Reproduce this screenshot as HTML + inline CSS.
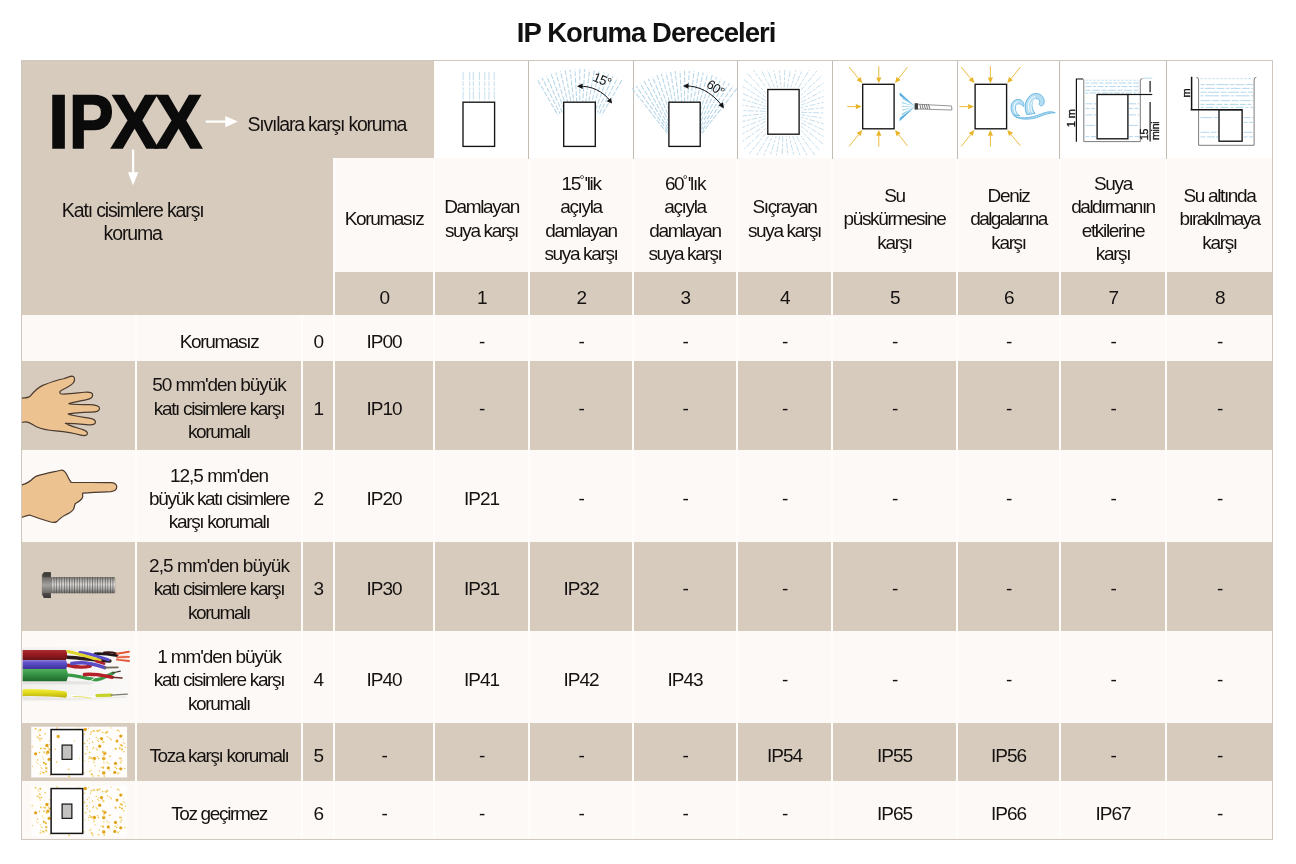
<!DOCTYPE html>
<html lang="tr"><head><meta charset="utf-8"><title>IP Koruma Dereceleri</title>
<style>
html,body{margin:0;padding:0;background:#fff}
body{width:1296px;height:864px;position:relative;overflow:hidden;font-family:"Liberation Sans",sans-serif;color:#151211}
.c{position:absolute;box-sizing:border-box}
.t{position:absolute;display:flex;align-items:center;justify-content:center;text-align:center;white-space:nowrap}
.t i{font-style:normal}
.t sup{font-size:12.5px;line-height:0;vertical-align:6px;letter-spacing:0;margin:0 0 0 -0.5px}
.title{position:absolute;left:0;top:0;width:1296px;text-align:center;font-weight:bold;font-size:27.5px;letter-spacing:-0.95px;line-height:30px;top:18.4px;color:#111;text-indent:-3.6px}
.ipxx b{position:absolute;top:0;transform:scaleX(0.94);transform-origin:0 0}
.ipxx{position:absolute;left:0;top:79.2px;width:300px;height:86px;font-weight:bold;font-size:76px;line-height:86px;-webkit-text-stroke:1.7px #0b0b0b;color:#0b0b0b}
.lab1{position:absolute;left:247.5px;top:111.2px;font-size:19.5px;line-height:26px;letter-spacing:-1.22px;white-space:nowrap}
</style></head><body>
<div class="c" style="left:21px;top:60px;width:1252px;height:780px;background:#fffdfa;"></div>
<div class="c" style="left:21px;top:60px;width:413px;height:98px;background:#d7cbbd;"></div>
<div class="c" style="left:21px;top:158px;width:312px;height:156.5px;background:#d7cbbd;"></div>
<div class="c" style="left:435px;top:61px;width:94px;height:97px;background:#ffffff;"></div>
<div class="c" style="left:530px;top:61px;width:103px;height:97px;background:#ffffff;"></div>
<div class="c" style="left:634px;top:61px;width:103px;height:97px;background:#ffffff;"></div>
<div class="c" style="left:738px;top:61px;width:94px;height:97px;background:#ffffff;"></div>
<div class="c" style="left:833px;top:61px;width:124px;height:97px;background:#ffffff;"></div>
<div class="c" style="left:958px;top:61px;width:102px;height:97px;background:#ffffff;"></div>
<div class="c" style="left:1061px;top:61px;width:105px;height:97px;background:#ffffff;"></div>
<div class="c" style="left:1167px;top:61px;width:105px;height:97px;background:#ffffff;"></div>
<div class="c" style="left:335px;top:158px;width:98px;height:114px;background:#fcf9f6;"></div>
<div class="c" style="left:335px;top:272px;width:98px;height:42.5px;background:#d7cbbd;"></div>
<div class="c" style="left:435px;top:158px;width:93px;height:114px;background:#fcf9f6;"></div>
<div class="c" style="left:435px;top:272px;width:93px;height:42.5px;background:#d7cbbd;"></div>
<div class="c" style="left:530px;top:158px;width:102px;height:114px;background:#fcf9f6;"></div>
<div class="c" style="left:530px;top:272px;width:102px;height:42.5px;background:#d7cbbd;"></div>
<div class="c" style="left:634px;top:158px;width:102px;height:114px;background:#fcf9f6;"></div>
<div class="c" style="left:634px;top:272px;width:102px;height:42.5px;background:#d7cbbd;"></div>
<div class="c" style="left:738px;top:158px;width:93px;height:114px;background:#fcf9f6;"></div>
<div class="c" style="left:738px;top:272px;width:93px;height:42.5px;background:#d7cbbd;"></div>
<div class="c" style="left:833px;top:158px;width:123px;height:114px;background:#fcf9f6;"></div>
<div class="c" style="left:833px;top:272px;width:123px;height:42.5px;background:#d7cbbd;"></div>
<div class="c" style="left:958px;top:158px;width:101px;height:114px;background:#fcf9f6;"></div>
<div class="c" style="left:958px;top:272px;width:101px;height:42.5px;background:#d7cbbd;"></div>
<div class="c" style="left:1061px;top:158px;width:104px;height:114px;background:#fcf9f6;"></div>
<div class="c" style="left:1061px;top:272px;width:104px;height:42.5px;background:#d7cbbd;"></div>
<div class="c" style="left:1167px;top:158px;width:105px;height:114px;background:#fcf9f6;"></div>
<div class="c" style="left:1167px;top:272px;width:105px;height:42.5px;background:#d7cbbd;"></div>
<div class="c" style="left:22px;top:314.5px;width:113px;height:46.5px;background:#fcf9f6;"></div>
<div class="c" style="left:137px;top:314.5px;width:164px;height:46.5px;background:#fcf9f6;"></div>
<div class="c" style="left:303px;top:314.5px;width:30px;height:46.5px;background:#fcf9f6;"></div>
<div class="c" style="left:335px;top:314.5px;width:98px;height:46.5px;background:#fcf9f6;"></div>
<div class="c" style="left:435px;top:314.5px;width:93px;height:46.5px;background:#fcf9f6;"></div>
<div class="c" style="left:530px;top:314.5px;width:102px;height:46.5px;background:#fcf9f6;"></div>
<div class="c" style="left:634px;top:314.5px;width:102px;height:46.5px;background:#fcf9f6;"></div>
<div class="c" style="left:738px;top:314.5px;width:93px;height:46.5px;background:#fcf9f6;"></div>
<div class="c" style="left:833px;top:314.5px;width:123px;height:46.5px;background:#fcf9f6;"></div>
<div class="c" style="left:958px;top:314.5px;width:101px;height:46.5px;background:#fcf9f6;"></div>
<div class="c" style="left:1061px;top:314.5px;width:104px;height:46.5px;background:#fcf9f6;"></div>
<div class="c" style="left:1167px;top:314.5px;width:105px;height:46.5px;background:#fcf9f6;"></div>
<div class="c" style="left:22px;top:361px;width:113px;height:89px;background:#d7cbbd;"></div>
<div class="c" style="left:137px;top:361px;width:164px;height:89px;background:#d7cbbd;"></div>
<div class="c" style="left:303px;top:361px;width:30px;height:89px;background:#d7cbbd;"></div>
<div class="c" style="left:335px;top:361px;width:98px;height:89px;background:#d7cbbd;"></div>
<div class="c" style="left:435px;top:361px;width:93px;height:89px;background:#d7cbbd;"></div>
<div class="c" style="left:530px;top:361px;width:102px;height:89px;background:#d7cbbd;"></div>
<div class="c" style="left:634px;top:361px;width:102px;height:89px;background:#d7cbbd;"></div>
<div class="c" style="left:738px;top:361px;width:93px;height:89px;background:#d7cbbd;"></div>
<div class="c" style="left:833px;top:361px;width:123px;height:89px;background:#d7cbbd;"></div>
<div class="c" style="left:958px;top:361px;width:101px;height:89px;background:#d7cbbd;"></div>
<div class="c" style="left:1061px;top:361px;width:104px;height:89px;background:#d7cbbd;"></div>
<div class="c" style="left:1167px;top:361px;width:105px;height:89px;background:#d7cbbd;"></div>
<div class="c" style="left:22px;top:450px;width:113px;height:91.5px;background:#fcf9f6;"></div>
<div class="c" style="left:137px;top:450px;width:164px;height:91.5px;background:#fcf9f6;"></div>
<div class="c" style="left:303px;top:450px;width:30px;height:91.5px;background:#fcf9f6;"></div>
<div class="c" style="left:335px;top:450px;width:98px;height:91.5px;background:#fcf9f6;"></div>
<div class="c" style="left:435px;top:450px;width:93px;height:91.5px;background:#fcf9f6;"></div>
<div class="c" style="left:530px;top:450px;width:102px;height:91.5px;background:#fcf9f6;"></div>
<div class="c" style="left:634px;top:450px;width:102px;height:91.5px;background:#fcf9f6;"></div>
<div class="c" style="left:738px;top:450px;width:93px;height:91.5px;background:#fcf9f6;"></div>
<div class="c" style="left:833px;top:450px;width:123px;height:91.5px;background:#fcf9f6;"></div>
<div class="c" style="left:958px;top:450px;width:101px;height:91.5px;background:#fcf9f6;"></div>
<div class="c" style="left:1061px;top:450px;width:104px;height:91.5px;background:#fcf9f6;"></div>
<div class="c" style="left:1167px;top:450px;width:105px;height:91.5px;background:#fcf9f6;"></div>
<div class="c" style="left:22px;top:541.5px;width:113px;height:89.5px;background:#d7cbbd;"></div>
<div class="c" style="left:137px;top:541.5px;width:164px;height:89.5px;background:#d7cbbd;"></div>
<div class="c" style="left:303px;top:541.5px;width:30px;height:89.5px;background:#d7cbbd;"></div>
<div class="c" style="left:335px;top:541.5px;width:98px;height:89.5px;background:#d7cbbd;"></div>
<div class="c" style="left:435px;top:541.5px;width:93px;height:89.5px;background:#d7cbbd;"></div>
<div class="c" style="left:530px;top:541.5px;width:102px;height:89.5px;background:#d7cbbd;"></div>
<div class="c" style="left:634px;top:541.5px;width:102px;height:89.5px;background:#d7cbbd;"></div>
<div class="c" style="left:738px;top:541.5px;width:93px;height:89.5px;background:#d7cbbd;"></div>
<div class="c" style="left:833px;top:541.5px;width:123px;height:89.5px;background:#d7cbbd;"></div>
<div class="c" style="left:958px;top:541.5px;width:101px;height:89.5px;background:#d7cbbd;"></div>
<div class="c" style="left:1061px;top:541.5px;width:104px;height:89.5px;background:#d7cbbd;"></div>
<div class="c" style="left:1167px;top:541.5px;width:105px;height:89.5px;background:#d7cbbd;"></div>
<div class="c" style="left:22px;top:631px;width:113px;height:91.5px;background:#fcf9f6;"></div>
<div class="c" style="left:137px;top:631px;width:164px;height:91.5px;background:#fcf9f6;"></div>
<div class="c" style="left:303px;top:631px;width:30px;height:91.5px;background:#fcf9f6;"></div>
<div class="c" style="left:335px;top:631px;width:98px;height:91.5px;background:#fcf9f6;"></div>
<div class="c" style="left:435px;top:631px;width:93px;height:91.5px;background:#fcf9f6;"></div>
<div class="c" style="left:530px;top:631px;width:102px;height:91.5px;background:#fcf9f6;"></div>
<div class="c" style="left:634px;top:631px;width:102px;height:91.5px;background:#fcf9f6;"></div>
<div class="c" style="left:738px;top:631px;width:93px;height:91.5px;background:#fcf9f6;"></div>
<div class="c" style="left:833px;top:631px;width:123px;height:91.5px;background:#fcf9f6;"></div>
<div class="c" style="left:958px;top:631px;width:101px;height:91.5px;background:#fcf9f6;"></div>
<div class="c" style="left:1061px;top:631px;width:104px;height:91.5px;background:#fcf9f6;"></div>
<div class="c" style="left:1167px;top:631px;width:105px;height:91.5px;background:#fcf9f6;"></div>
<div class="c" style="left:22px;top:722.5px;width:113px;height:58.5px;background:#d7cbbd;"></div>
<div class="c" style="left:137px;top:722.5px;width:164px;height:58.5px;background:#d7cbbd;"></div>
<div class="c" style="left:303px;top:722.5px;width:30px;height:58.5px;background:#d7cbbd;"></div>
<div class="c" style="left:335px;top:722.5px;width:98px;height:58.5px;background:#d7cbbd;"></div>
<div class="c" style="left:435px;top:722.5px;width:93px;height:58.5px;background:#d7cbbd;"></div>
<div class="c" style="left:530px;top:722.5px;width:102px;height:58.5px;background:#d7cbbd;"></div>
<div class="c" style="left:634px;top:722.5px;width:102px;height:58.5px;background:#d7cbbd;"></div>
<div class="c" style="left:738px;top:722.5px;width:93px;height:58.5px;background:#d7cbbd;"></div>
<div class="c" style="left:833px;top:722.5px;width:123px;height:58.5px;background:#d7cbbd;"></div>
<div class="c" style="left:958px;top:722.5px;width:101px;height:58.5px;background:#d7cbbd;"></div>
<div class="c" style="left:1061px;top:722.5px;width:104px;height:58.5px;background:#d7cbbd;"></div>
<div class="c" style="left:1167px;top:722.5px;width:105px;height:58.5px;background:#d7cbbd;"></div>
<div class="c" style="left:22px;top:781px;width:113px;height:59px;background:#fcf9f6;"></div>
<div class="c" style="left:137px;top:781px;width:164px;height:59px;background:#fcf9f6;"></div>
<div class="c" style="left:303px;top:781px;width:30px;height:59px;background:#fcf9f6;"></div>
<div class="c" style="left:335px;top:781px;width:98px;height:59px;background:#fcf9f6;"></div>
<div class="c" style="left:435px;top:781px;width:93px;height:59px;background:#fcf9f6;"></div>
<div class="c" style="left:530px;top:781px;width:102px;height:59px;background:#fcf9f6;"></div>
<div class="c" style="left:634px;top:781px;width:102px;height:59px;background:#fcf9f6;"></div>
<div class="c" style="left:738px;top:781px;width:93px;height:59px;background:#fcf9f6;"></div>
<div class="c" style="left:833px;top:781px;width:123px;height:59px;background:#fcf9f6;"></div>
<div class="c" style="left:958px;top:781px;width:101px;height:59px;background:#fcf9f6;"></div>
<div class="c" style="left:1061px;top:781px;width:104px;height:59px;background:#fcf9f6;"></div>
<div class="c" style="left:1167px;top:781px;width:105px;height:59px;background:#fcf9f6;"></div>
<div class="c" style="left:21px;top:60px;width:1252px;height:780px;border:1px solid #d0c7bf;background:none"></div>
<div class="c" style="left:528.1px;top:61px;width:1.0px;height:97.5px;background:#c4bdb6;"></div>
<div class="c" style="left:632.8px;top:61px;width:1.0px;height:97.5px;background:#c4bdb6;"></div>
<div class="c" style="left:737px;top:61px;width:1px;height:97.5px;background:#c4bdb6;"></div>
<div class="c" style="left:831.7px;top:61px;width:1.0px;height:97.5px;background:#c4bdb6;"></div>
<div class="c" style="left:956.6px;top:61px;width:1.0px;height:97.5px;background:#c4bdb6;"></div>
<div class="c" style="left:1059.2px;top:61px;width:1.0px;height:97.5px;background:#c4bdb6;"></div>
<div class="c" style="left:1165.8px;top:61px;width:1.0px;height:97.5px;background:#c4bdb6;"></div>
<div class="title">IP Koruma Dereceleri</div>
<div class="ipxx"><b style="left:48px;transform:scaleX(1.0)">I</b><b style="left:68.7px;transform:scaleX(0.88)">P</b><b style="left:111px;transform:scaleX(0.93)">X</b><b style="left:154.6px;transform:scaleX(0.93)">X</b></div>
<div class="lab1">Sıvılara karşı koruma</div>
<div class="t " style="left:20.2px;top:199px;width:225.0px;height:46px;font-size:19.5px;letter-spacing:-1.15px;line-height:23px"><span>Katı cisimlere karşı<br>koruma</span></div>
<div class="t " style="left:334px;top:161.9px;width:100px;height:114px;font-size:19px;letter-spacing:-1.35px;line-height:23.4px"><span>Korumasız</span></div>
<div class="t " style="left:334px;top:276.9px;width:100px;height:42.5px;font-size:19px;letter-spacing:-1.35px;line-height:23.4px"><span>0</span></div>
<div class="t " style="left:434px;top:161.9px;width:95px;height:114px;font-size:19px;letter-spacing:-1.35px;line-height:23.4px"><span>Damlayan<br>suya karşı</span></div>
<div class="t " style="left:434px;top:276.9px;width:95px;height:42.5px;font-size:19px;letter-spacing:-1.35px;line-height:23.4px"><span>1</span></div>
<div class="t " style="left:529px;top:161.9px;width:104px;height:114px;font-size:19px;letter-spacing:-1.35px;line-height:23.4px"><span>15<sup>°</sup>'lik<br>açıyla<br>damlayan<br>suya karşı</span></div>
<div class="t " style="left:529px;top:276.9px;width:104px;height:42.5px;font-size:19px;letter-spacing:-1.35px;line-height:23.4px"><span>2</span></div>
<div class="t " style="left:633px;top:161.9px;width:104px;height:114px;font-size:19px;letter-spacing:-1.35px;line-height:23.4px"><span>60<sup>°</sup>'lık<br>açıyla<br>damlayan<br>suya karşı</span></div>
<div class="t " style="left:633px;top:276.9px;width:104px;height:42.5px;font-size:19px;letter-spacing:-1.35px;line-height:23.4px"><span>3</span></div>
<div class="t " style="left:737px;top:161.9px;width:95px;height:114px;font-size:19px;letter-spacing:-1.35px;line-height:23.4px"><span>Sıçrayan<br>suya karşı</span></div>
<div class="t " style="left:737px;top:276.9px;width:95px;height:42.5px;font-size:19px;letter-spacing:-1.35px;line-height:23.4px"><span>4</span></div>
<div class="t " style="left:832px;top:161.9px;width:125px;height:114px;font-size:19px;letter-spacing:-1.35px;line-height:23.4px"><span>Su<br>püskürmesine<br>karşı</span></div>
<div class="t " style="left:832px;top:276.9px;width:125px;height:42.5px;font-size:19px;letter-spacing:-1.35px;line-height:23.4px"><span>5</span></div>
<div class="t " style="left:957px;top:161.9px;width:103px;height:114px;font-size:19px;letter-spacing:-1.35px;line-height:23.4px"><span>Deniz<br><i style="letter-spacing:-1.6px">dalgalarına</i><br>karşı</span></div>
<div class="t " style="left:957px;top:276.9px;width:103px;height:42.5px;font-size:19px;letter-spacing:-1.35px;line-height:23.4px"><span>6</span></div>
<div class="t " style="left:1060px;top:161.9px;width:106px;height:114px;font-size:19px;letter-spacing:-1.35px;line-height:23.4px"><span>Suya<br><i style="letter-spacing:-1.55px">daldırmanın</i><br>etkilerine<br>karşı</span></div>
<div class="t " style="left:1060px;top:276.9px;width:106px;height:42.5px;font-size:19px;letter-spacing:-1.35px;line-height:23.4px"><span>7</span></div>
<div class="t " style="left:1166px;top:161.9px;width:107px;height:114px;font-size:19px;letter-spacing:-1.35px;line-height:23.4px"><span>Su altında<br><i style="letter-spacing:-1.65px">bırakılmaya</i><br>karşı</span></div>
<div class="t " style="left:1166px;top:276.9px;width:107px;height:42.5px;font-size:19px;letter-spacing:-1.35px;line-height:23.4px"><span>8</span></div>
<div class="t " style="left:136px;top:318.4px;width:166px;height:46.5px;font-size:19px;letter-spacing:-1.35px;line-height:23.4px"><span>Korumasız</span></div>
<div class="t " style="left:302px;top:318.4px;width:32px;height:46.5px;font-size:19px;letter-spacing:-1.35px;line-height:23.4px"><span>0</span></div>
<div class="t " style="left:334px;top:318.4px;width:100px;height:46.5px;font-size:19px;letter-spacing:-1.0px;line-height:23.4px"><span>IP00</span></div>
<div class="t " style="left:434px;top:318.4px;width:95px;height:46.5px;font-size:19px;letter-spacing:-1.35px;line-height:23.4px"><span>-</span></div>
<div class="t " style="left:529px;top:318.4px;width:104px;height:46.5px;font-size:19px;letter-spacing:-1.35px;line-height:23.4px"><span>-</span></div>
<div class="t " style="left:633px;top:318.4px;width:104px;height:46.5px;font-size:19px;letter-spacing:-1.35px;line-height:23.4px"><span>-</span></div>
<div class="t " style="left:737px;top:318.4px;width:95px;height:46.5px;font-size:19px;letter-spacing:-1.35px;line-height:23.4px"><span>-</span></div>
<div class="t " style="left:832px;top:318.4px;width:125px;height:46.5px;font-size:19px;letter-spacing:-1.35px;line-height:23.4px"><span>-</span></div>
<div class="t " style="left:957px;top:318.4px;width:103px;height:46.5px;font-size:19px;letter-spacing:-1.35px;line-height:23.4px"><span>-</span></div>
<div class="t " style="left:1060px;top:318.4px;width:106px;height:46.5px;font-size:19px;letter-spacing:-1.35px;line-height:23.4px"><span>-</span></div>
<div class="t " style="left:1166px;top:318.4px;width:107px;height:46.5px;font-size:19px;letter-spacing:-1.35px;line-height:23.4px"><span>-</span></div>
<div class="t " style="left:136px;top:363.9px;width:166px;height:89px;font-size:19px;letter-spacing:-1.35px;line-height:23.4px"><span><i style="letter-spacing:-1.06px">50 mm'den büyük</i><br>katı cisimlere karşı<br>korumalı</span></div>
<div class="t " style="left:302px;top:363.9px;width:32px;height:89px;font-size:19px;letter-spacing:-1.35px;line-height:23.4px"><span>1</span></div>
<div class="t " style="left:334px;top:363.9px;width:100px;height:89px;font-size:19px;letter-spacing:-1.0px;line-height:23.4px"><span>IP10</span></div>
<div class="t " style="left:434px;top:363.9px;width:95px;height:89px;font-size:19px;letter-spacing:-1.35px;line-height:23.4px"><span>-</span></div>
<div class="t " style="left:529px;top:363.9px;width:104px;height:89px;font-size:19px;letter-spacing:-1.35px;line-height:23.4px"><span>-</span></div>
<div class="t " style="left:633px;top:363.9px;width:104px;height:89px;font-size:19px;letter-spacing:-1.35px;line-height:23.4px"><span>-</span></div>
<div class="t " style="left:737px;top:363.9px;width:95px;height:89px;font-size:19px;letter-spacing:-1.35px;line-height:23.4px"><span>-</span></div>
<div class="t " style="left:832px;top:363.9px;width:125px;height:89px;font-size:19px;letter-spacing:-1.35px;line-height:23.4px"><span>-</span></div>
<div class="t " style="left:957px;top:363.9px;width:103px;height:89px;font-size:19px;letter-spacing:-1.35px;line-height:23.4px"><span>-</span></div>
<div class="t " style="left:1060px;top:363.9px;width:106px;height:89px;font-size:19px;letter-spacing:-1.35px;line-height:23.4px"><span>-</span></div>
<div class="t " style="left:1166px;top:363.9px;width:107px;height:89px;font-size:19px;letter-spacing:-1.35px;line-height:23.4px"><span>-</span></div>
<div class="t " style="left:136px;top:453.0px;width:166px;height:91.5px;font-size:19px;letter-spacing:-1.35px;line-height:23.4px"><span><i style="letter-spacing:-1.0px">12,5 mm'den</i><br>büyük katı cisimlere<br>karşı korumalı</span></div>
<div class="t " style="left:302px;top:453.0px;width:32px;height:91.5px;font-size:19px;letter-spacing:-1.35px;line-height:23.4px"><span>2</span></div>
<div class="t " style="left:334px;top:453.0px;width:100px;height:91.5px;font-size:19px;letter-spacing:-1.0px;line-height:23.4px"><span>IP20</span></div>
<div class="t " style="left:434px;top:453.0px;width:95px;height:91.5px;font-size:19px;letter-spacing:-1.0px;line-height:23.4px"><span>IP21</span></div>
<div class="t " style="left:529px;top:453.0px;width:104px;height:91.5px;font-size:19px;letter-spacing:-1.35px;line-height:23.4px"><span>-</span></div>
<div class="t " style="left:633px;top:453.0px;width:104px;height:91.5px;font-size:19px;letter-spacing:-1.35px;line-height:23.4px"><span>-</span></div>
<div class="t " style="left:737px;top:453.0px;width:95px;height:91.5px;font-size:19px;letter-spacing:-1.35px;line-height:23.4px"><span>-</span></div>
<div class="t " style="left:832px;top:453.0px;width:125px;height:91.5px;font-size:19px;letter-spacing:-1.35px;line-height:23.4px"><span>-</span></div>
<div class="t " style="left:957px;top:453.0px;width:103px;height:91.5px;font-size:19px;letter-spacing:-1.35px;line-height:23.4px"><span>-</span></div>
<div class="t " style="left:1060px;top:453.0px;width:106px;height:91.5px;font-size:19px;letter-spacing:-1.35px;line-height:23.4px"><span>-</span></div>
<div class="t " style="left:1166px;top:453.0px;width:107px;height:91.5px;font-size:19px;letter-spacing:-1.35px;line-height:23.4px"><span>-</span></div>
<div class="t " style="left:136px;top:544.1px;width:166px;height:89.5px;font-size:19px;letter-spacing:-1.35px;line-height:23.4px"><span><i style="letter-spacing:-0.92px">2,5 mm'den büyük</i><br>katı cisimlere karşı<br>korumalı</span></div>
<div class="t " style="left:302px;top:544.1px;width:32px;height:89.5px;font-size:19px;letter-spacing:-1.35px;line-height:23.4px"><span>3</span></div>
<div class="t " style="left:334px;top:544.1px;width:100px;height:89.5px;font-size:19px;letter-spacing:-1.0px;line-height:23.4px"><span>IP30</span></div>
<div class="t " style="left:434px;top:544.1px;width:95px;height:89.5px;font-size:19px;letter-spacing:-1.0px;line-height:23.4px"><span>IP31</span></div>
<div class="t " style="left:529px;top:544.1px;width:104px;height:89.5px;font-size:19px;letter-spacing:-1.0px;line-height:23.4px"><span>IP32</span></div>
<div class="t " style="left:633px;top:544.1px;width:104px;height:89.5px;font-size:19px;letter-spacing:-1.35px;line-height:23.4px"><span>-</span></div>
<div class="t " style="left:737px;top:544.1px;width:95px;height:89.5px;font-size:19px;letter-spacing:-1.35px;line-height:23.4px"><span>-</span></div>
<div class="t " style="left:832px;top:544.1px;width:125px;height:89.5px;font-size:19px;letter-spacing:-1.35px;line-height:23.4px"><span>-</span></div>
<div class="t " style="left:957px;top:544.1px;width:103px;height:89.5px;font-size:19px;letter-spacing:-1.35px;line-height:23.4px"><span>-</span></div>
<div class="t " style="left:1060px;top:544.1px;width:106px;height:89.5px;font-size:19px;letter-spacing:-1.35px;line-height:23.4px"><span>-</span></div>
<div class="t " style="left:1166px;top:544.1px;width:107px;height:89.5px;font-size:19px;letter-spacing:-1.35px;line-height:23.4px"><span>-</span></div>
<div class="t " style="left:136px;top:634.3px;width:166px;height:91.5px;font-size:19px;letter-spacing:-1.35px;line-height:23.4px"><span><i style="letter-spacing:-1.08px">1 mm'den büyük</i><br>katı cisimlere karşı<br>korumalı</span></div>
<div class="t " style="left:302px;top:634.3px;width:32px;height:91.5px;font-size:19px;letter-spacing:-1.35px;line-height:23.4px"><span>4</span></div>
<div class="t " style="left:334px;top:634.3px;width:100px;height:91.5px;font-size:19px;letter-spacing:-1.0px;line-height:23.4px"><span>IP40</span></div>
<div class="t " style="left:434px;top:634.3px;width:95px;height:91.5px;font-size:19px;letter-spacing:-1.0px;line-height:23.4px"><span>IP41</span></div>
<div class="t " style="left:529px;top:634.3px;width:104px;height:91.5px;font-size:19px;letter-spacing:-1.0px;line-height:23.4px"><span>IP42</span></div>
<div class="t " style="left:633px;top:634.3px;width:104px;height:91.5px;font-size:19px;letter-spacing:-1.0px;line-height:23.4px"><span>IP43</span></div>
<div class="t " style="left:737px;top:634.3px;width:95px;height:91.5px;font-size:19px;letter-spacing:-1.35px;line-height:23.4px"><span>-</span></div>
<div class="t " style="left:832px;top:634.3px;width:125px;height:91.5px;font-size:19px;letter-spacing:-1.35px;line-height:23.4px"><span>-</span></div>
<div class="t " style="left:957px;top:634.3px;width:103px;height:91.5px;font-size:19px;letter-spacing:-1.35px;line-height:23.4px"><span>-</span></div>
<div class="t " style="left:1060px;top:634.3px;width:106px;height:91.5px;font-size:19px;letter-spacing:-1.35px;line-height:23.4px"><span>-</span></div>
<div class="t " style="left:1166px;top:634.3px;width:107px;height:91.5px;font-size:19px;letter-spacing:-1.35px;line-height:23.4px"><span>-</span></div>
<div class="t " style="left:136px;top:726.4px;width:166px;height:58.5px;font-size:19px;letter-spacing:-1.35px;line-height:23.4px"><span>Toza karşı korumalı</span></div>
<div class="t " style="left:302px;top:726.4px;width:32px;height:58.5px;font-size:19px;letter-spacing:-1.35px;line-height:23.4px"><span>5</span></div>
<div class="t " style="left:334px;top:726.4px;width:100px;height:58.5px;font-size:19px;letter-spacing:-1.35px;line-height:23.4px"><span>-</span></div>
<div class="t " style="left:434px;top:726.4px;width:95px;height:58.5px;font-size:19px;letter-spacing:-1.35px;line-height:23.4px"><span>-</span></div>
<div class="t " style="left:529px;top:726.4px;width:104px;height:58.5px;font-size:19px;letter-spacing:-1.35px;line-height:23.4px"><span>-</span></div>
<div class="t " style="left:633px;top:726.4px;width:104px;height:58.5px;font-size:19px;letter-spacing:-1.35px;line-height:23.4px"><span>-</span></div>
<div class="t " style="left:737px;top:726.4px;width:95px;height:58.5px;font-size:19px;letter-spacing:-1.0px;line-height:23.4px"><span>IP54</span></div>
<div class="t " style="left:832px;top:726.4px;width:125px;height:58.5px;font-size:19px;letter-spacing:-1.0px;line-height:23.4px"><span>IP55</span></div>
<div class="t " style="left:957px;top:726.4px;width:103px;height:58.5px;font-size:19px;letter-spacing:-1.0px;line-height:23.4px"><span>IP56</span></div>
<div class="t " style="left:1060px;top:726.4px;width:106px;height:58.5px;font-size:19px;letter-spacing:-1.35px;line-height:23.4px"><span>-</span></div>
<div class="t " style="left:1166px;top:726.4px;width:107px;height:58.5px;font-size:19px;letter-spacing:-1.35px;line-height:23.4px"><span>-</span></div>
<div class="t " style="left:136px;top:784.1px;width:166px;height:59px;font-size:19px;letter-spacing:-1.35px;line-height:23.4px"><span>Toz geçirmez</span></div>
<div class="t " style="left:302px;top:784.1px;width:32px;height:59px;font-size:19px;letter-spacing:-1.35px;line-height:23.4px"><span>6</span></div>
<div class="t " style="left:334px;top:784.1px;width:100px;height:59px;font-size:19px;letter-spacing:-1.35px;line-height:23.4px"><span>-</span></div>
<div class="t " style="left:434px;top:784.1px;width:95px;height:59px;font-size:19px;letter-spacing:-1.35px;line-height:23.4px"><span>-</span></div>
<div class="t " style="left:529px;top:784.1px;width:104px;height:59px;font-size:19px;letter-spacing:-1.35px;line-height:23.4px"><span>-</span></div>
<div class="t " style="left:633px;top:784.1px;width:104px;height:59px;font-size:19px;letter-spacing:-1.35px;line-height:23.4px"><span>-</span></div>
<div class="t " style="left:737px;top:784.1px;width:95px;height:59px;font-size:19px;letter-spacing:-1.35px;line-height:23.4px"><span>-</span></div>
<div class="t " style="left:832px;top:784.1px;width:125px;height:59px;font-size:19px;letter-spacing:-1.0px;line-height:23.4px"><span>IP65</span></div>
<div class="t " style="left:957px;top:784.1px;width:103px;height:59px;font-size:19px;letter-spacing:-1.0px;line-height:23.4px"><span>IP66</span></div>
<div class="t " style="left:1060px;top:784.1px;width:106px;height:59px;font-size:19px;letter-spacing:-1.0px;line-height:23.4px"><span>IP67</span></div>
<div class="t " style="left:1166px;top:784.1px;width:107px;height:59px;font-size:19px;letter-spacing:-1.35px;line-height:23.4px"><span>-</span></div>
<svg class="c" style="left:200px;top:110px" width="50" height="24" viewBox="200 110 50 24"><path d="M205.6 121.6H227" stroke="#fff" stroke-width="2.3" fill="none"/><path d="M225.3 116L237.8 121.6L225.3 127.2Z" fill="#fff"/></svg>
<svg class="c" style="left:120px;top:146px" width="26" height="46" viewBox="120 146 26 46"><path d="M133.1 149.6V174" stroke="#fff" stroke-width="2.3" fill="none"/><path d="M127.9 172.3L133.1 185.3L138.3 172.3Z" fill="#fff"/></svg>
<svg class="c" style="left:434px;top:60px" width="840" height="98" viewBox="434 60 840 98" font-family="Liberation Sans, sans-serif">
<path d="M463.1 72V101.5" stroke="#b6d6e8" stroke-width="0.8" stroke-dasharray="8 1.2 5 1.2 3 1" fill="none"/>
<path d="M469.7 72V101.5" stroke="#b6d6e8" stroke-width="0.8" stroke-dasharray="8 1.2 5 1.2 3 1" fill="none"/>
<path d="M473.3 72V101.5" stroke="#b6d6e8" stroke-width="0.8" stroke-dasharray="8 1.2 5 1.2 3 1" fill="none"/>
<path d="M479.4 72V101.5" stroke="#b6d6e8" stroke-width="0.8" stroke-dasharray="8 1.2 5 1.2 3 1" fill="none"/>
<path d="M484.8 72V101.5" stroke="#b6d6e8" stroke-width="0.8" stroke-dasharray="8 1.2 5 1.2 3 1" fill="none"/>
<path d="M489 72V101.5" stroke="#b6d6e8" stroke-width="0.8" stroke-dasharray="8 1.2 5 1.2 3 1" fill="none"/>
<path d="M494.2 72V101.5" stroke="#b6d6e8" stroke-width="0.8" stroke-dasharray="8 1.2 5 1.2 3 1" fill="none"/>
<rect x="463.0" y="102.2" width="31.6" height="44.2" fill="#fff" stroke="#141414" stroke-width="1.35"/>
<path d="M537.8 80.3L557.8 114.9" stroke="#b6d6e8" stroke-width="1.05" stroke-dasharray="5 1.6" stroke-dashoffset="0.0" fill="none"/>
<path d="M542.1 77.9L560.1 113.7" stroke="#b6d6e8" stroke-width="1.05" stroke-dasharray="5 1.6" stroke-dashoffset="2.2" fill="none"/>
<path d="M546.5 75.9L562.4 112.6" stroke="#b6d6e8" stroke-width="1.05" stroke-dasharray="5 1.6" stroke-dashoffset="4.4" fill="none"/>
<path d="M551.1 74.1L564.8 111.7" stroke="#b6d6e8" stroke-width="1.05" stroke-dasharray="5 1.6" stroke-dashoffset="0.0" fill="none"/>
<path d="M555.7 72.5L567.2 110.8" stroke="#b6d6e8" stroke-width="1.05" stroke-dasharray="5 1.6" stroke-dashoffset="2.2" fill="none"/>
<path d="M560.4 71.3L569.7 110.2" stroke="#b6d6e8" stroke-width="1.05" stroke-dasharray="5 1.6" stroke-dashoffset="4.4" fill="none"/>
<path d="M565.2 70.3L572.2 109.7" stroke="#b6d6e8" stroke-width="1.05" stroke-dasharray="5 1.6" stroke-dashoffset="0.0" fill="none"/>
<path d="M570.0 69.6L574.7 109.3" stroke="#b6d6e8" stroke-width="1.05" stroke-dasharray="5 1.6" stroke-dashoffset="2.2" fill="none"/>
<path d="M574.9 69.1L577.2 109.1" stroke="#b6d6e8" stroke-width="1.05" stroke-dasharray="5 1.6" stroke-dashoffset="4.4" fill="none"/>
<path d="M579.8 69.0L579.8 109.0" stroke="#b6d6e8" stroke-width="1.05" stroke-dasharray="5 1.6" stroke-dashoffset="0.0" fill="none"/>
<path d="M584.7 69.1L582.4 109.1" stroke="#b6d6e8" stroke-width="1.05" stroke-dasharray="5 1.6" stroke-dashoffset="2.2" fill="none"/>
<path d="M589.6 69.6L584.9 109.3" stroke="#b6d6e8" stroke-width="1.05" stroke-dasharray="5 1.6" stroke-dashoffset="4.4" fill="none"/>
<path d="M594.4 70.3L587.4 109.7" stroke="#b6d6e8" stroke-width="1.05" stroke-dasharray="5 1.6" stroke-dashoffset="0.0" fill="none"/>
<path d="M599.2 71.3L589.9 110.2" stroke="#b6d6e8" stroke-width="1.05" stroke-dasharray="5 1.6" stroke-dashoffset="2.2" fill="none"/>
<path d="M603.9 72.5L592.4 110.8" stroke="#b6d6e8" stroke-width="1.05" stroke-dasharray="5 1.6" stroke-dashoffset="4.4" fill="none"/>
<path d="M608.5 74.1L594.8 111.7" stroke="#b6d6e8" stroke-width="1.05" stroke-dasharray="5 1.6" stroke-dashoffset="0.0" fill="none"/>
<path d="M613.1 75.9L597.2 112.6" stroke="#b6d6e8" stroke-width="1.05" stroke-dasharray="5 1.6" stroke-dashoffset="2.2" fill="none"/>
<path d="M617.5 77.9L599.5 113.7" stroke="#b6d6e8" stroke-width="1.05" stroke-dasharray="5 1.6" stroke-dashoffset="4.4" fill="none"/>
<path d="M621.8 80.3L601.8 114.9" stroke="#b6d6e8" stroke-width="1.05" stroke-dasharray="5 1.6" stroke-dashoffset="0.0" fill="none"/>
<rect x="563.7" y="102.2" width="31.6" height="44.2" fill="#fff" stroke="#141414" stroke-width="1.35"/>
<path d="M579.5 86.3C591 85.8 603 91 610.6 101.4" stroke="#141414" stroke-width="1" fill="none"/>
<path d="M577 86.3L582.6 83.5L582.6 89.1Z" fill="#141414"/>
<path d="M612.1 103.5L606.6 101.2L611 98Z" fill="#141414"/>
<text x="602.2" y="84.3" font-size="13" text-anchor="middle" transform="rotate(22 602.2 79.7)" fill="#141414" letter-spacing="-0.5">15°</text>
<path d="M632.3 88.6L667.4 133.5" stroke="#b6d6e8" stroke-width="1.05" stroke-dasharray="5 1.6" stroke-dashoffset="0.0" fill="none"/>
<path d="M636.0 85.8L668.6 132.6" stroke="#b6d6e8" stroke-width="1.05" stroke-dasharray="5 1.6" stroke-dashoffset="2.2" fill="none"/>
<path d="M640.0 83.3L669.9 131.8" stroke="#b6d6e8" stroke-width="1.05" stroke-dasharray="5 1.6" stroke-dashoffset="4.4" fill="none"/>
<path d="M644.0 80.9L671.2 131.0" stroke="#b6d6e8" stroke-width="1.05" stroke-dasharray="5 1.6" stroke-dashoffset="0.0" fill="none"/>
<path d="M648.2 78.8L672.6 130.3" stroke="#b6d6e8" stroke-width="1.05" stroke-dasharray="5 1.6" stroke-dashoffset="2.2" fill="none"/>
<path d="M652.5 76.9L674.0 129.7" stroke="#b6d6e8" stroke-width="1.05" stroke-dasharray="5 1.6" stroke-dashoffset="4.4" fill="none"/>
<path d="M656.9 75.2L675.5 129.1" stroke="#b6d6e8" stroke-width="1.05" stroke-dasharray="5 1.6" stroke-dashoffset="0.0" fill="none"/>
<path d="M661.4 73.8L677.0 128.7" stroke="#b6d6e8" stroke-width="1.05" stroke-dasharray="5 1.6" stroke-dashoffset="2.2" fill="none"/>
<path d="M666.0 72.7L678.5 128.3" stroke="#b6d6e8" stroke-width="1.05" stroke-dasharray="5 1.6" stroke-dashoffset="4.4" fill="none"/>
<path d="M670.6 71.8L680.0 128.0" stroke="#b6d6e8" stroke-width="1.05" stroke-dasharray="5 1.6" stroke-dashoffset="0.0" fill="none"/>
<path d="M675.2 71.1L681.5 127.8" stroke="#b6d6e8" stroke-width="1.05" stroke-dasharray="5 1.6" stroke-dashoffset="2.2" fill="none"/>
<path d="M679.9 70.7L683.1 127.6" stroke="#b6d6e8" stroke-width="1.05" stroke-dasharray="5 1.6" stroke-dashoffset="4.4" fill="none"/>
<path d="M684.6 70.6L684.6 127.6" stroke="#b6d6e8" stroke-width="1.05" stroke-dasharray="5 1.6" stroke-dashoffset="0.0" fill="none"/>
<path d="M689.3 70.7L686.1 127.6" stroke="#b6d6e8" stroke-width="1.05" stroke-dasharray="5 1.6" stroke-dashoffset="2.2" fill="none"/>
<path d="M694.0 71.1L687.7 127.8" stroke="#b6d6e8" stroke-width="1.05" stroke-dasharray="5 1.6" stroke-dashoffset="4.4" fill="none"/>
<path d="M698.6 71.8L689.2 128.0" stroke="#b6d6e8" stroke-width="1.05" stroke-dasharray="5 1.6" stroke-dashoffset="0.0" fill="none"/>
<path d="M703.2 72.7L690.7 128.3" stroke="#b6d6e8" stroke-width="1.05" stroke-dasharray="5 1.6" stroke-dashoffset="2.2" fill="none"/>
<path d="M707.8 73.8L692.2 128.7" stroke="#b6d6e8" stroke-width="1.05" stroke-dasharray="5 1.6" stroke-dashoffset="4.4" fill="none"/>
<path d="M712.3 75.2L693.7 129.1" stroke="#b6d6e8" stroke-width="1.05" stroke-dasharray="5 1.6" stroke-dashoffset="0.0" fill="none"/>
<path d="M716.7 76.9L695.2 129.7" stroke="#b6d6e8" stroke-width="1.05" stroke-dasharray="5 1.6" stroke-dashoffset="2.2" fill="none"/>
<path d="M721.0 78.8L696.6 130.3" stroke="#b6d6e8" stroke-width="1.05" stroke-dasharray="5 1.6" stroke-dashoffset="4.4" fill="none"/>
<path d="M725.2 80.9L698.0 131.0" stroke="#b6d6e8" stroke-width="1.05" stroke-dasharray="5 1.6" stroke-dashoffset="0.0" fill="none"/>
<path d="M729.2 83.3L699.3 131.8" stroke="#b6d6e8" stroke-width="1.05" stroke-dasharray="5 1.6" stroke-dashoffset="2.2" fill="none"/>
<path d="M733.2 85.8L700.6 132.6" stroke="#b6d6e8" stroke-width="1.05" stroke-dasharray="5 1.6" stroke-dashoffset="4.4" fill="none"/>
<path d="M736.9 88.6L701.8 133.5" stroke="#b6d6e8" stroke-width="1.05" stroke-dasharray="5 1.6" stroke-dashoffset="0.0" fill="none"/>
<rect x="668.9" y="102.2" width="31.3" height="44.2" fill="#fff" stroke="#141414" stroke-width="1.35"/>
<path d="M685.5 86C698 85.6 712 92 722.2 106" stroke="#141414" stroke-width="1" fill="none"/>
<path d="M682.9 86L688.5 83.2L688.5 88.8Z" fill="#141414"/>
<path d="M723.9 108.5L718.4 105.2L723 102.2Z" fill="#141414"/>
<text x="715.6" y="92.3" font-size="13" text-anchor="middle" transform="rotate(35 715.6 87.7)" fill="#141414" letter-spacing="-0.5">60°</text>
<clipPath id="cp4"><rect x="742.5" y="70" width="81" height="85.5" rx="10"/></clipPath><g clip-path="url(#cp4)">
<path d="M784.2 87.5L785.1 57.8" stroke="#b6d6e8" stroke-width="0.8" stroke-dasharray="6 1.5 3 1.5" stroke-dashoffset="0.0" fill="none"/>
<path d="M787.4 87.5L792.2 58.5" stroke="#b6d6e8" stroke-width="0.8" stroke-dasharray="6 1.5 3 1.5" stroke-dashoffset="1.7" fill="none"/>
<path d="M790.8 87.5L799.0 60.1" stroke="#b6d6e8" stroke-width="0.8" stroke-dasharray="6 1.5 3 1.5" stroke-dashoffset="3.4" fill="none"/>
<path d="M794.4 87.5L805.7 62.6" stroke="#b6d6e8" stroke-width="0.8" stroke-dasharray="6 1.5 3 1.5" stroke-dashoffset="5.1" fill="none"/>
<path d="M798.5 87.5L811.9 65.9" stroke="#b6d6e8" stroke-width="0.8" stroke-dasharray="6 1.5 3 1.5" stroke-dashoffset="0.0" fill="none"/>
<path d="M801.2 90.1L817.6 70.0" stroke="#b6d6e8" stroke-width="0.8" stroke-dasharray="6 1.5 3 1.5" stroke-dashoffset="1.7" fill="none"/>
<path d="M801.2 95.1L822.8 74.8" stroke="#b6d6e8" stroke-width="0.8" stroke-dasharray="6 1.5 3 1.5" stroke-dashoffset="3.4" fill="none"/>
<path d="M801.2 99.0L827.3 80.2" stroke="#b6d6e8" stroke-width="0.8" stroke-dasharray="6 1.5 3 1.5" stroke-dashoffset="5.1" fill="none"/>
<path d="M801.2 102.3L831.1 86.2" stroke="#b6d6e8" stroke-width="0.8" stroke-dasharray="6 1.5 3 1.5" stroke-dashoffset="0.0" fill="none"/>
<path d="M801.2 105.1L834.0 92.6" stroke="#b6d6e8" stroke-width="0.8" stroke-dasharray="6 1.5 3 1.5" stroke-dashoffset="1.7" fill="none"/>
<path d="M801.2 107.6L836.1 99.4" stroke="#b6d6e8" stroke-width="0.8" stroke-dasharray="6 1.5 3 1.5" stroke-dashoffset="3.4" fill="none"/>
<path d="M801.2 110.0L837.2 106.4" stroke="#b6d6e8" stroke-width="0.8" stroke-dasharray="6 1.5 3 1.5" stroke-dashoffset="5.1" fill="none"/>
<path d="M801.2 112.3L837.5 113.4" stroke="#b6d6e8" stroke-width="0.8" stroke-dasharray="6 1.5 3 1.5" stroke-dashoffset="0.0" fill="none"/>
<path d="M801.2 114.7L836.8 120.5" stroke="#b6d6e8" stroke-width="0.8" stroke-dasharray="6 1.5 3 1.5" stroke-dashoffset="1.7" fill="none"/>
<path d="M801.2 117.1L835.2 127.3" stroke="#b6d6e8" stroke-width="0.8" stroke-dasharray="6 1.5 3 1.5" stroke-dashoffset="3.4" fill="none"/>
<path d="M801.2 119.8L832.7 134.0" stroke="#b6d6e8" stroke-width="0.8" stroke-dasharray="6 1.5 3 1.5" stroke-dashoffset="5.1" fill="none"/>
<path d="M801.2 122.7L829.4 140.2" stroke="#b6d6e8" stroke-width="0.8" stroke-dasharray="6 1.5 3 1.5" stroke-dashoffset="0.0" fill="none"/>
<path d="M801.2 126.2L825.3 145.9" stroke="#b6d6e8" stroke-width="0.8" stroke-dasharray="6 1.5 3 1.5" stroke-dashoffset="1.7" fill="none"/>
<path d="M801.2 130.6L820.5 151.1" stroke="#b6d6e8" stroke-width="0.8" stroke-dasharray="6 1.5 3 1.5" stroke-dashoffset="3.4" fill="none"/>
<path d="M801.0 136.1L815.1 155.6" stroke="#b6d6e8" stroke-width="0.8" stroke-dasharray="6 1.5 3 1.5" stroke-dashoffset="5.1" fill="none"/>
<path d="M796.6 136.1L809.1 159.4" stroke="#b6d6e8" stroke-width="0.8" stroke-dasharray="6 1.5 3 1.5" stroke-dashoffset="0.0" fill="none"/>
<path d="M792.7 136.1L802.7 162.3" stroke="#b6d6e8" stroke-width="0.8" stroke-dasharray="6 1.5 3 1.5" stroke-dashoffset="1.7" fill="none"/>
<path d="M789.2 136.1L795.9 164.4" stroke="#b6d6e8" stroke-width="0.8" stroke-dasharray="6 1.5 3 1.5" stroke-dashoffset="3.4" fill="none"/>
<path d="M786.0 136.1L788.9 165.5" stroke="#b6d6e8" stroke-width="0.8" stroke-dasharray="6 1.5 3 1.5" stroke-dashoffset="5.1" fill="none"/>
<path d="M782.8 136.1L781.9 165.8" stroke="#b6d6e8" stroke-width="0.8" stroke-dasharray="6 1.5 3 1.5" stroke-dashoffset="0.0" fill="none"/>
<path d="M779.6 136.1L774.8 165.1" stroke="#b6d6e8" stroke-width="0.8" stroke-dasharray="6 1.5 3 1.5" stroke-dashoffset="1.7" fill="none"/>
<path d="M776.2 136.1L768.0 163.5" stroke="#b6d6e8" stroke-width="0.8" stroke-dasharray="6 1.5 3 1.5" stroke-dashoffset="3.4" fill="none"/>
<path d="M772.6 136.1L761.3 161.0" stroke="#b6d6e8" stroke-width="0.8" stroke-dasharray="6 1.5 3 1.5" stroke-dashoffset="5.1" fill="none"/>
<path d="M768.5 136.1L755.1 157.7" stroke="#b6d6e8" stroke-width="0.8" stroke-dasharray="6 1.5 3 1.5" stroke-dashoffset="0.0" fill="none"/>
<path d="M765.8 133.5L749.4 153.6" stroke="#b6d6e8" stroke-width="0.8" stroke-dasharray="6 1.5 3 1.5" stroke-dashoffset="1.7" fill="none"/>
<path d="M765.8 128.5L744.2 148.8" stroke="#b6d6e8" stroke-width="0.8" stroke-dasharray="6 1.5 3 1.5" stroke-dashoffset="3.4" fill="none"/>
<path d="M765.8 124.6L739.7 143.4" stroke="#b6d6e8" stroke-width="0.8" stroke-dasharray="6 1.5 3 1.5" stroke-dashoffset="5.1" fill="none"/>
<path d="M765.8 121.3L735.9 137.4" stroke="#b6d6e8" stroke-width="0.8" stroke-dasharray="6 1.5 3 1.5" stroke-dashoffset="0.0" fill="none"/>
<path d="M765.8 118.5L733.0 131.0" stroke="#b6d6e8" stroke-width="0.8" stroke-dasharray="6 1.5 3 1.5" stroke-dashoffset="1.7" fill="none"/>
<path d="M765.8 116.0L730.9 124.2" stroke="#b6d6e8" stroke-width="0.8" stroke-dasharray="6 1.5 3 1.5" stroke-dashoffset="3.4" fill="none"/>
<path d="M765.8 113.6L729.8 117.2" stroke="#b6d6e8" stroke-width="0.8" stroke-dasharray="6 1.5 3 1.5" stroke-dashoffset="5.1" fill="none"/>
<path d="M765.8 111.3L729.5 110.2" stroke="#b6d6e8" stroke-width="0.8" stroke-dasharray="6 1.5 3 1.5" stroke-dashoffset="0.0" fill="none"/>
<path d="M765.8 108.9L730.2 103.1" stroke="#b6d6e8" stroke-width="0.8" stroke-dasharray="6 1.5 3 1.5" stroke-dashoffset="1.7" fill="none"/>
<path d="M765.8 106.5L731.8 96.3" stroke="#b6d6e8" stroke-width="0.8" stroke-dasharray="6 1.5 3 1.5" stroke-dashoffset="3.4" fill="none"/>
<path d="M765.8 103.8L734.3 89.6" stroke="#b6d6e8" stroke-width="0.8" stroke-dasharray="6 1.5 3 1.5" stroke-dashoffset="5.1" fill="none"/>
<path d="M765.8 100.9L737.6 83.4" stroke="#b6d6e8" stroke-width="0.8" stroke-dasharray="6 1.5 3 1.5" stroke-dashoffset="0.0" fill="none"/>
<path d="M765.8 97.4L741.7 77.7" stroke="#b6d6e8" stroke-width="0.8" stroke-dasharray="6 1.5 3 1.5" stroke-dashoffset="1.7" fill="none"/>
<path d="M765.8 93.0L746.5 72.5" stroke="#b6d6e8" stroke-width="0.8" stroke-dasharray="6 1.5 3 1.5" stroke-dashoffset="3.4" fill="none"/>
<path d="M766.0 87.5L751.9 68.0" stroke="#b6d6e8" stroke-width="0.8" stroke-dasharray="6 1.5 3 1.5" stroke-dashoffset="5.1" fill="none"/>
<path d="M770.4 87.5L757.9 64.2" stroke="#b6d6e8" stroke-width="0.8" stroke-dasharray="6 1.5 3 1.5" stroke-dashoffset="0.0" fill="none"/>
<path d="M774.3 87.5L764.3 61.3" stroke="#b6d6e8" stroke-width="0.8" stroke-dasharray="6 1.5 3 1.5" stroke-dashoffset="1.7" fill="none"/>
<path d="M777.8 87.5L771.1 59.2" stroke="#b6d6e8" stroke-width="0.8" stroke-dasharray="6 1.5 3 1.5" stroke-dashoffset="3.4" fill="none"/>
<path d="M781.0 87.5L778.1 58.1" stroke="#b6d6e8" stroke-width="0.8" stroke-dasharray="6 1.5 3 1.5" stroke-dashoffset="5.1" fill="none"/>
</g>
<rect x="767.8" y="89.5" width="31.3" height="44.7" fill="#fff" stroke="#141414" stroke-width="1.35"/>
<path d="M849.1 67.1L858.6 78.6" stroke="#e9b429" stroke-width="0.9" fill="none"/>
<path d="M862.3 83.1L856.6 80.3L860.6 77.0Z" fill="#e9b429"/>
<path d="M878.8 66.2L878.8 77.5" stroke="#e9b429" stroke-width="0.9" fill="none"/>
<path d="M878.8 83.3L876.2 77.5L881.4 77.5Z" fill="#e9b429"/>
<path d="M907.5 67.1L898.6 78.5" stroke="#e9b429" stroke-width="0.9" fill="none"/>
<path d="M895.0 83.1L896.5 76.9L900.6 80.1Z" fill="#e9b429"/>
<path d="M847.3 106.6L855.8 106.6" stroke="#e9b429" stroke-width="0.9" fill="none"/>
<path d="M861.6 106.6L855.8 109.2L855.8 104.0Z" fill="#e9b429"/>
<path d="M849.1 146.4L858.7 134.5" stroke="#e9b429" stroke-width="0.9" fill="none"/>
<path d="M862.3 130.0L860.7 136.1L856.6 132.9Z" fill="#e9b429"/>
<path d="M878.8 146.7L878.8 135.7" stroke="#e9b429" stroke-width="0.9" fill="none"/>
<path d="M878.8 129.9L881.4 135.7L876.2 135.7Z" fill="#e9b429"/>
<path d="M907.5 145.8L898.6 134.5" stroke="#e9b429" stroke-width="0.9" fill="none"/>
<path d="M895.0 130.0L900.6 132.9L896.6 136.2Z" fill="#e9b429"/>
<rect x="862.7" y="84.3" width="31.4" height="44.5" fill="#fff" stroke="#141414" stroke-width="1.35"/>
<path d="M915.2 106.4L899.7 92.30000000000001L899.7 95.5Z" fill="#55aee0"/>
<path d="M915.2 106.4L902.5 97.1L902.5 98.9Z" fill="#8ccbea"/>
<path d="M915.2 106.4L901.8 101.8L901.8 103.2Z" fill="#a6d7ef"/>
<path d="M915.2 106.4L901.8 105.7L901.8 107.10000000000001Z" fill="#a6d7ef"/>
<path d="M915.2 106.4L902.5 109.5L902.5 110.9Z" fill="#a6d7ef"/>
<path d="M915.2 106.4L901.8 113.8L901.8 115.60000000000001Z" fill="#8ccbea"/>
<path d="M915.2 106.4L899.7 118.0L899.7 121.19999999999999Z" fill="#55aee0"/>
<path d="M917.6 104.2L951.6 106L951.9 110L917.6 109Z" fill="#fff" stroke="#6a6a6a" stroke-width="0.7"/>
<path d="M919.8 104.4L921.0 109" stroke="#555" stroke-width="0.8"/>
<path d="M922 104.4L923.2 109" stroke="#555" stroke-width="0.8"/>
<path d="M924.2 104.4L925.4000000000001 109" stroke="#555" stroke-width="0.8"/>
<path d="M926.4 104.4L927.6 109" stroke="#555" stroke-width="0.8"/>
<path d="M928.6 104.4L929.8000000000001 109" stroke="#555" stroke-width="0.8"/>
<rect x="914.6" y="103.2" width="3.3" height="6.4" fill="#3c3c3c"/>
<path d="M961.2 67.1L970.7 78.6" stroke="#e9b429" stroke-width="0.9" fill="none"/>
<path d="M974.4 83.1L968.7 80.3L972.7 77.0Z" fill="#e9b429"/>
<path d="M990.4 66.2L990.4 77.5" stroke="#e9b429" stroke-width="0.9" fill="none"/>
<path d="M990.4 83.3L987.8 77.5L993.0 77.5Z" fill="#e9b429"/>
<path d="M1020.4 67.1L1011.0 78.6" stroke="#e9b429" stroke-width="0.9" fill="none"/>
<path d="M1007.3 83.1L1009.0 77.0L1013.0 80.3Z" fill="#e9b429"/>
<path d="M959.3 106.6L968.2 106.6" stroke="#e9b429" stroke-width="0.9" fill="none"/>
<path d="M974.0 106.6L968.2 109.2L968.2 104.0Z" fill="#e9b429"/>
<path d="M961.2 146.4L970.8 134.5" stroke="#e9b429" stroke-width="0.9" fill="none"/>
<path d="M974.4 130.0L972.8 136.1L968.7 132.9Z" fill="#e9b429"/>
<path d="M990.4 146.7L990.4 135.7" stroke="#e9b429" stroke-width="0.9" fill="none"/>
<path d="M990.4 129.9L993.0 135.7L987.8 135.7Z" fill="#e9b429"/>
<path d="M1020.4 145.8L1011.0 134.5" stroke="#e9b429" stroke-width="0.9" fill="none"/>
<path d="M1007.3 130.0L1013.0 132.8L1009.0 136.1Z" fill="#e9b429"/>
<rect x="975.1" y="84.3" width="31.5" height="44.5" fill="#fff" stroke="#141414" stroke-width="1.35"/>
<g transform="translate(890 80) scale(0.13889)" stroke="#5fb2de" stroke-width="6" fill="#b4ddf2" stroke-linejoin="round">
<path d="M890 255C950 292 1050 262 1100 240C1140 225 1170 226 1190 236C1150 236 1120 246 1080 262C1020 288 930 292 890 255Z"/>
<path d="M985 250C955 185 985 105 1045 97C1095 93 1122 140 1106 176C1096 192 1072 188 1074 168C1084 150 1070 130 1050 135C1015 145 1012 205 1045 240Z"/>
<path d="M888 252C858 205 868 150 915 140C950 135 972 165 962 192C950 176 930 166 915 176C895 190 902 232 935 258Z"/>
<path d="M1005 230C985 180 1000 130 1045 118M1025 235C1005 190 1015 150 1048 135M905 240C885 205 890 165 920 155M925 245C905 215 905 185 925 172" fill="none" stroke="#fff" stroke-width="7"/>
</g>
<path d="M1081.6 78.6Q1083.8 78.4 1083.8 81V141.6H1140.3V81Q1140.3 78.4 1142.5 78.6" stroke="#5a5a5a" stroke-width="0.8" fill="none"/>
<path d="M1085.5 80.2H1139" stroke="#acd4ec" stroke-width="0.9" stroke-dasharray="2 2" fill="none"/>
<path d="M1085.5 83H1139" stroke="#acd4ec" stroke-width="0.9" stroke-dasharray="4 1.5 7 1.5" fill="none"/>
<path d="M1085.5 86.6H1139" stroke="#acd4ec" stroke-width="0.9" stroke-dasharray="6 1.5 3 1.5" fill="none"/>
<path d="M1085.5 90.3H1139" stroke="#acd4ec" stroke-width="0.9" stroke-dasharray="5 1.5 8 1.5" fill="none"/>
<path d="M1085.5 93H1139" stroke="#acd4ec" stroke-width="0.9" stroke-dasharray="3 1.5 6 1.5" fill="none"/>
<path d="M1085.5 103.8H1096" stroke="#acd4ec" stroke-width="0.9" stroke-dasharray="7 1.5" fill="none"/>
<path d="M1085.5 108.4H1096" stroke="#acd4ec" stroke-width="0.9" stroke-dasharray="4 1.5" fill="none"/>
<path d="M1085.5 114.9H1096" stroke="#acd4ec" stroke-width="0.9" stroke-dasharray="7 1.5" fill="none"/>
<path d="M1085.5 125.4H1096" stroke="#acd4ec" stroke-width="0.9" stroke-dasharray="9 1" fill="none"/>
<path d="M1085.5 136.6H1096" stroke="#acd4ec" stroke-width="0.9" stroke-dasharray="4 1.5 5 1" fill="none"/>
<path d="M1129 103.8H1139" stroke="#acd4ec" stroke-width="0.9" stroke-dasharray="7 1.5" fill="none"/>
<path d="M1129 108.4H1139" stroke="#acd4ec" stroke-width="0.9" stroke-dasharray="4 1.5" fill="none"/>
<path d="M1129 114.9H1139" stroke="#acd4ec" stroke-width="0.9" stroke-dasharray="7 1.5" fill="none"/>
<path d="M1129 125.4H1139" stroke="#acd4ec" stroke-width="0.9" stroke-dasharray="9 1" fill="none"/>
<path d="M1129 136.6H1139" stroke="#acd4ec" stroke-width="0.9" stroke-dasharray="4 1.5 5 1" fill="none"/>
<path d="M1143 78.2H1152.3" stroke="#acd4ec" stroke-width="0.9" stroke-dasharray="20" fill="none"/>
<rect x="1097.1" y="94.5" width="30.8" height="44.3" fill="#fff" stroke="#141414" stroke-width="1.35"/>
<path d="M1127.9 94.5H1152.3" stroke="#141414" stroke-width="1.2"/>
<path d="M1076.4 78.6V141.8M1076.4 79H1082.5" stroke="#141414" stroke-width="1.2" fill="none"/>
<path d="M1150.1 81V92.2M1150.1 101.9V141.6" stroke="#141414" stroke-width="1.2" fill="none"/>
<text x="0" y="0" font-size="11" text-anchor="middle" transform="translate(1074.6 118.2) rotate(-90)" fill="#141414" stroke="#141414" stroke-width="0.35">1 m</text>
<text x="0" y="0" font-size="10.5" text-anchor="middle" transform="translate(1148.2 134.4) rotate(-90)" fill="#141414" stroke="#141414" stroke-width="0.35" letter-spacing="-0.3">15</text>
<text x="0" y="0" font-size="10.5" text-anchor="middle" transform="translate(1159 130.8) rotate(-90)" fill="#141414" stroke="#141414" stroke-width="0.35" letter-spacing="-0.2">mini</text>
<path d="M1196.4 77.4Q1198.6 77.2 1198.6 80V145.3H1254.1V80Q1254.1 77.2 1256.3 77.4" stroke="#5a5a5a" stroke-width="0.8" fill="none"/>
<path d="M1200.5 78.6H1253" stroke="#acd4ec" stroke-width="0.9" stroke-dasharray="2 2" fill="none"/>
<path d="M1200.5 84.6H1253" stroke="#acd4ec" stroke-width="0.9" stroke-dasharray="4 1.5 9 1.5 12 1.5" fill="none"/>
<path d="M1200.5 88.4H1253" stroke="#acd4ec" stroke-width="0.9" stroke-dasharray="3 1.5 10 1.5 8 1.5" fill="none"/>
<path d="M1200.5 92.2H1253" stroke="#acd4ec" stroke-width="0.9" stroke-dasharray="6 1.5 11 1.5" fill="none"/>
<path d="M1200.5 95.8H1253" stroke="#acd4ec" stroke-width="0.9" stroke-dasharray="3 1.5 14 1.5 9 1.5" fill="none"/>
<path d="M1200.5 100.6H1253" stroke="#acd4ec" stroke-width="0.9" stroke-dasharray="10 1.5 7 1.5" fill="none"/>
<path d="M1200.5 104.4H1253" stroke="#acd4ec" stroke-width="0.9" stroke-dasharray="4 1.5 9 1.5 6 1.5" fill="none"/>
<path d="M1200.5 107.4H1253" stroke="#acd4ec" stroke-width="0.9" stroke-dasharray="3 2 8 2" fill="none"/>
<path d="M1200.5 117.6H1218" stroke="#acd4ec" stroke-width="0.9" stroke-dasharray="12 1.5" fill="none"/>
<path d="M1200.5 132.3H1218" stroke="#acd4ec" stroke-width="0.9" stroke-dasharray="9 1.5 5 1" fill="none"/>
<path d="M1200.5 136.9H1218" stroke="#acd4ec" stroke-width="0.9" stroke-dasharray="5 1.5 8 1" fill="none"/>
<path d="M1243.5 117.6H1253" stroke="#acd4ec" stroke-width="0.9" stroke-dasharray="7 1.5" fill="none"/>
<path d="M1243.5 122.4H1253" stroke="#acd4ec" stroke-width="0.9" stroke-dasharray="4 1.5" fill="none"/>
<path d="M1243.5 132.3H1253" stroke="#acd4ec" stroke-width="0.9" stroke-dasharray="9 1" fill="none"/>
<path d="M1243.5 136.9H1253" stroke="#acd4ec" stroke-width="0.9" stroke-dasharray="4 1.5 5 1" fill="none"/>
<rect x="1219.0" y="109.7" width="23.1" height="31.5" fill="#fff" stroke="#141414" stroke-width="1.35"/>
<path d="M1190.6 109.7H1242.1M1191.6 76.7V109.7" stroke="#141414" stroke-width="1.5" fill="none"/>
<text x="0" y="0" font-size="11" text-anchor="middle" transform="translate(1189.8 93) rotate(-90)" fill="#141414" stroke="#141414" stroke-width="0.35">m</text>
</svg>
<svg class="c" style="left:15px;top:355px" width="130" height="100" viewBox="0 0 1123 864">
<path d="M60 372C100 372 120 368 135 352C160 320 190 285 240 262C300 238 370 215 420 205C450 198 470 184 492 183C512 184 520 205 510 232C498 258 450 282 410 300C385 312 380 325 395 335C420 345 520 330 600 322C640 318 668 322 671 345C672 368 655 378 620 385C570 396 500 410 465 420C470 426 560 428 640 429C700 430 730 440 730 462C730 485 705 493 660 494C600 496 500 502 460 509C480 520 580 535 640 545C680 552 698 560 695 580C692 603 665 607 620 602C560 596 470 590 435 590C450 605 540 630 585 645C615 655 630 665 625 682C618 700 595 700 560 690C500 672 420 662 350 655C290 650 230 640 190 622C150 604 130 580 95 578C80 577 70 580 60 582" fill="#ecc290" stroke="#4b3b2e" stroke-width="10.5" stroke-linejoin="round"/>
</svg>
<svg class="c" style="left:15px;top:445px" width="130" height="100" viewBox="0 0 1123 864">
<path d="M60 345C100 335 135 310 160 285C175 270 190 265 230 256C290 243 350 228 395 218C420 214 435 232 447 255C460 280 470 305 485 322C560 324 700 324 830 326C862 327 880 340 879 363C878 388 860 400 830 402C760 405 650 410 585 416C580 430 590 440 582 455C572 478 550 490 522 505C512 515 518 530 505 555C492 578 465 590 435 605C405 618 385 640 360 662C345 672 325 670 300 663C240 646 170 622 125 605C105 607 80 618 60 625" fill="#ecc290" stroke="#4b3b2e" stroke-width="10.5" stroke-linejoin="round"/>
</svg>
<svg class="c" style="left:15px;top:540px" width="130" height="100" viewBox="0 0 1123 864">
<defs><linearGradient id="bg1" x1="0" y1="0" x2="0" y2="1"><stop offset="0" stop-color="#686562"/><stop offset="0.18" stop-color="#9b9996"/><stop offset="0.45" stop-color="#d2d1cf"/><stop offset="0.7" stop-color="#a5a3a1"/><stop offset="1" stop-color="#5a5855"/></linearGradient>
<linearGradient id="bg2" x1="0" y1="0" x2="0" y2="1"><stop offset="0" stop-color="#3e3b38"/><stop offset="0.2" stop-color="#6d6a67"/><stop offset="0.5" stop-color="#a3a19e"/><stop offset="0.8" stop-color="#6d6a67"/><stop offset="1" stop-color="#3e3b38"/></linearGradient>
<pattern id="thr" x="312" y="0" width="22.1" height="864" patternUnits="userSpaceOnUse"><rect x="0" y="0" width="7" height="864" fill="#3a3835" opacity="0.55"/><rect x="11" y="0" width="7" height="864" fill="#fff" opacity="0.25"/></pattern></defs>
<rect x="312" y="320" width="553" height="140" rx="8" fill="url(#bg1)"/>
<rect x="312" y="320" width="553" height="140" rx="8" fill="url(#thr)"/>
<path d="M250 278H310V330L316 345V440L310 455V502H250L232 470V300Z" fill="url(#bg2)"/>
<path d="M250 278H310V322H240Z" fill="#3a3734" opacity="0.7"/><path d="M240 458H310V502H250Z" fill="#3a3734" opacity="0.6"/>
</svg>
<svg class="c" style="left:15px;top:630px" width="130" height="100" viewBox="0 0 1123 864">
<defs>
<linearGradient id="cr" x1="0" y1="0" x2="0" y2="1"><stop offset="0" stop-color="#a83034"/><stop offset="0.35" stop-color="#9c1c22"/><stop offset="1" stop-color="#64121a"/></linearGradient>
<linearGradient id="cp" x1="0" y1="0" x2="0" y2="1"><stop offset="0" stop-color="#7a6ad8"/><stop offset="0.35" stop-color="#5a4cc4"/><stop offset="1" stop-color="#3a2f92"/></linearGradient>
<linearGradient id="cg" x1="0" y1="0" x2="0" y2="1"><stop offset="0" stop-color="#55b060"/><stop offset="0.35" stop-color="#3a9a48"/><stop offset="1" stop-color="#1f6a2c"/></linearGradient>
<linearGradient id="cy" x1="0" y1="0" x2="0" y2="1"><stop offset="0" stop-color="#f2ec50"/><stop offset="0.35" stop-color="#e6de1e"/><stop offset="1" stop-color="#b8b010"/></linearGradient>
<linearGradient id="cbg" x1="0" y1="0" x2="1" y2="0"><stop offset="0" stop-color="#f3f1ef"/><stop offset="1" stop-color="#faf9f8"/></linearGradient>
</defs>
<rect x="60" y="150" width="940" height="465" fill="url(#cbg)"/>
<path d="M65 440H460L700 445L650 470H65Z" fill="#d9d7d5" opacity="0.55"/><path d="M65 578C200 574 330 582 450 592L700 590L960 572V585L450 605H65Z" fill="#dddbd9" opacity="0.5"/>
<path d="M450 235C560 240 700 262 820 268" stroke="#2a1a1a" stroke-width="30" fill="none" stroke-linecap="round"/>
<path d="M690 205C760 200 820 210 885 222" stroke="#1d1516" stroke-width="22" fill="none" stroke-linecap="round"/>
<path d="M770 195C810 190 850 195 880 205" stroke="#3a1414" stroke-width="18" fill="none" stroke-linecap="round"/>
<path d="M560 195C640 200 730 235 810 258" stroke="#5b50c8" stroke-width="26" fill="none" stroke-linecap="round"/>
<path d="M455 185C540 200 640 235 735 262" stroke="#e2d62a" stroke-width="26" fill="none" stroke-linecap="round"/>
<path d="M880 205L985 188M885 235L985 232M880 255L985 268" stroke="#e2583a" stroke-width="16" fill="none" stroke-linecap="round"/>
<path d="M890 225L975 215M900 248L985 250" stroke="#f7d9cc" stroke-width="8" fill="none" stroke-linecap="round"/>
<path d="M455 305C540 325 600 325 650 312" stroke="#b0202a" stroke-width="30" fill="none" stroke-linecap="round"/>
<path d="M490 290C580 270 680 290 775 325" stroke="#5a4cc4" stroke-width="30" fill="none" stroke-linecap="round"/>
<path d="M700 270C740 280 760 285 770 290" stroke="#b0202a" stroke-width="22" fill="none" stroke-linecap="round"/>
<path d="M775 325L888 323" stroke="#6e6a55" stroke-width="16" fill="none" stroke-linecap="round"/>
<path d="M460 390C540 395 620 420 700 430C760 425 810 385 850 372" stroke="#3a9a48" stroke-width="28" fill="none" stroke-linecap="round"/>
<path d="M600 385C680 375 770 395 840 408" stroke="#b81e28" stroke-width="30" fill="none" stroke-linecap="round"/>
<path d="M840 372L910 355" stroke="#3a3a30" stroke-width="10" fill="none" stroke-linecap="round"/>
<path d="M840 408L925 415" stroke="#6a2a2a" stroke-width="12" fill="none" stroke-linecap="round"/>
<path d="M640 450L700 405" stroke="#fff" stroke-width="8" fill="none" stroke-linecap="round"/>
<path d="M65 172H440Q460 215 440 262H65Z" fill="url(#cr)"/>
<path d="M65 262H440Q462 300 440 342H65Z" fill="url(#cp)"/>
<path d="M65 336H445Q470 390 445 442H65Z" fill="url(#cg)"/>
<path d="M65 512C200 505 330 515 440 532Q460 560 440 585C330 575 200 568 65 572Z" fill="url(#cy)"/>
<path d="M450 560C520 575 600 585 700 575" stroke="#fff" stroke-width="9" fill="none"/>
<path d="M500 575C560 572 620 580 660 590" stroke="#e4e070" stroke-width="9" fill="none"/>
<path d="M708 566L830 562" stroke="#c6d22a" stroke-width="28" fill="none" stroke-linecap="round"/>
<path d="M830 562L970 555" stroke="#7d7a66" stroke-width="11" fill="none" stroke-linecap="round"/>
</svg>
<svg class="c" style="left:15px;top:724px" width="130" height="72" viewBox="0 60 864 478.5">
<rect x="108" y="78" width="637" height="337" fill="#fffefc"/>
<circle cx="137" cy="258" r="11" fill="#e6ac25"/>
<circle cx="137" cy="258" r="6.1" fill="#d99a18"/>
<circle cx="212" cy="203" r="11" fill="#e6ac25"/>
<circle cx="212" cy="203" r="6.1" fill="#d99a18"/>
<circle cx="218" cy="247" r="11" fill="#e6ac25"/>
<circle cx="218" cy="247" r="6.1" fill="#d99a18"/>
<circle cx="227" cy="295" r="11" fill="#e6ac25"/>
<circle cx="227" cy="295" r="6.1" fill="#d99a18"/>
<circle cx="467" cy="97" r="12" fill="#e6ac25"/>
<circle cx="467" cy="97" r="6.6" fill="#d99a18"/>
<circle cx="575" cy="157" r="11" fill="#e6ac25"/>
<circle cx="575" cy="157" r="6.1" fill="#d99a18"/>
<circle cx="563" cy="208" r="11" fill="#e6ac25"/>
<circle cx="563" cy="208" r="6.1" fill="#d99a18"/>
<circle cx="597" cy="255" r="11" fill="#e6ac25"/>
<circle cx="597" cy="255" r="6.1" fill="#d99a18"/>
<circle cx="527" cy="290" r="12" fill="#e6ac25"/>
<circle cx="527" cy="290" r="6.6" fill="#d99a18"/>
<circle cx="590" cy="290" r="12" fill="#e6ac25"/>
<circle cx="590" cy="290" r="6.6" fill="#d99a18"/>
<circle cx="668" cy="322" r="11" fill="#e6ac25"/>
<circle cx="668" cy="322" r="6.1" fill="#d99a18"/>
<circle cx="620" cy="352" r="11" fill="#e6ac25"/>
<circle cx="620" cy="352" r="6.1" fill="#d99a18"/>
<circle cx="590" cy="385" r="12" fill="#e6ac25"/>
<circle cx="590" cy="385" r="6.6" fill="#d99a18"/>
<circle cx="663" cy="382" r="11" fill="#e6ac25"/>
<circle cx="663" cy="382" r="6.1" fill="#d99a18"/>
<circle cx="703" cy="358" r="11" fill="#e6ac25"/>
<circle cx="703" cy="358" r="6.1" fill="#d99a18"/>
<circle cx="703" cy="140" r="11" fill="#e6ac25"/>
<circle cx="703" cy="140" r="6.1" fill="#d99a18"/>
<circle cx="678" cy="173" r="10" fill="#e6ac25"/>
<circle cx="678" cy="173" r="5.5" fill="#d99a18"/>
<circle cx="208" cy="353" r="8" fill="#e6ac25"/>
<circle cx="208" cy="353" r="4.4" fill="#d99a18"/>
<circle cx="192" cy="318" r="7" fill="#e6ac25"/>
<circle cx="192" cy="318" r="3.9" fill="#d99a18"/>
<circle cx="521" cy="108" r="6" fill="#efc04a"/>
<circle cx="172" cy="222" r="6" fill="#efc04a"/>
<circle cx="705" cy="289" r="6" fill="#efc04a"/>
<circle cx="475" cy="213" r="4" fill="#efc04a"/>
<circle cx="462" cy="128" r="5" fill="#f2cb66"/>
<circle cx="464" cy="305" r="3.5" fill="#f2cb66"/>
<circle cx="154" cy="104" r="4" fill="#f4d582"/>
<circle cx="539" cy="223" r="4.5" fill="#f4d582"/>
<circle cx="480" cy="231" r="4.5" fill="#f2cb66"/>
<circle cx="610" cy="311" r="4" fill="#efc04a"/>
<circle cx="473" cy="255" r="4.5" fill="#f4d582"/>
<circle cx="189" cy="220" r="4.5" fill="#f2cb66"/>
<circle cx="696" cy="221" r="7" fill="#efc04a"/>
<circle cx="591" cy="270" r="4.5" fill="#ecb838"/>
<circle cx="548" cy="277" r="6" fill="#f4d582"/>
<circle cx="158" cy="115" r="4.5" fill="#f4d582"/>
<circle cx="549" cy="106" r="7" fill="#ecb838"/>
<circle cx="518" cy="406" r="5" fill="#ecb838"/>
<circle cx="561" cy="372" r="4.5" fill="#efc04a"/>
<circle cx="701" cy="200" r="6" fill="#efc04a"/>
<circle cx="200" cy="224" r="6" fill="#ecb838"/>
<circle cx="555" cy="404" r="7" fill="#f4d582"/>
<circle cx="712" cy="134" r="4" fill="#f2cb66"/>
<circle cx="279" cy="86" r="5" fill="#ecb838"/>
<circle cx="495" cy="188" r="4" fill="#efc04a"/>
<circle cx="708" cy="305" r="6" fill="#f4d582"/>
<circle cx="234" cy="403" r="5" fill="#f2cb66"/>
<circle cx="183" cy="279" r="3.5" fill="#efc04a"/>
<circle cx="468" cy="258" r="4.5" fill="#efc04a"/>
<circle cx="159" cy="152" r="5" fill="#f2cb66"/>
<circle cx="510" cy="394" r="6" fill="#ecb838"/>
<circle cx="205" cy="327" r="7" fill="#ecb838"/>
<circle cx="708" cy="202" r="7" fill="#efc04a"/>
<circle cx="587" cy="181" r="7" fill="#efc04a"/>
<circle cx="549" cy="169" r="4.5" fill="#f2cb66"/>
<circle cx="512" cy="283" r="4" fill="#f2cb66"/>
<circle cx="625" cy="324" r="4" fill="#f2cb66"/>
<circle cx="133" cy="94" r="4.5" fill="#f4d582"/>
<circle cx="711" cy="229" r="7" fill="#ecb838"/>
<circle cx="710" cy="203" r="4" fill="#efc04a"/>
<circle cx="676" cy="356" r="5" fill="#ecb838"/>
<circle cx="613" cy="112" r="7" fill="#efc04a"/>
<circle cx="682" cy="338" r="4" fill="#f4d582"/>
<circle cx="669" cy="225" r="7" fill="#ecb838"/>
<circle cx="169" cy="391" r="7" fill="#f4d582"/>
<circle cx="168" cy="136" r="4" fill="#efc04a"/>
<circle cx="209" cy="377" r="7" fill="#f2cb66"/>
<circle cx="496" cy="277" r="5" fill="#ecb838"/>
<circle cx="212" cy="262" r="3.5" fill="#efc04a"/>
<circle cx="613" cy="320" r="3.5" fill="#f2cb66"/>
<circle cx="630" cy="153" r="4.5" fill="#f2cb66"/>
<circle cx="480" cy="169" r="5" fill="#f2cb66"/>
<circle cx="153" cy="324" r="5" fill="#f4d582"/>
<circle cx="630" cy="369" r="4" fill="#f2cb66"/>
<circle cx="117" cy="343" r="4" fill="#f2cb66"/>
<circle cx="462" cy="190" r="6" fill="#f4d582"/>
<circle cx="604" cy="119" r="6" fill="#efc04a"/>
<circle cx="596" cy="249" r="6" fill="#efc04a"/>
<circle cx="588" cy="380" r="5" fill="#ecb838"/>
<circle cx="497" cy="248" r="6" fill="#f2cb66"/>
<circle cx="547" cy="231" r="6" fill="#f4d582"/>
<circle cx="693" cy="383" r="4" fill="#f4d582"/>
<circle cx="200" cy="124" r="5" fill="#ecb838"/>
<circle cx="160" cy="163" r="3.5" fill="#f2cb66"/>
<circle cx="532" cy="338" r="4" fill="#ecb838"/>
<circle cx="204" cy="370" r="5" fill="#f2cb66"/>
<circle cx="580" cy="115" r="5" fill="#f2cb66"/>
<circle cx="732" cy="354" r="4" fill="#f4d582"/>
<circle cx="734" cy="215" r="5" fill="#f2cb66"/>
<circle cx="185" cy="382" r="4" fill="#efc04a"/>
<circle cx="167" cy="173" r="4" fill="#ecb838"/>
<circle cx="586" cy="350" r="7" fill="#ecb838"/>
<circle cx="613" cy="144" r="3.5" fill="#ecb838"/>
<circle cx="700" cy="290" r="4.5" fill="#efc04a"/>
<circle cx="494" cy="157" r="4.5" fill="#efc04a"/>
<circle cx="460" cy="384" r="4.5" fill="#f2cb66"/>
<circle cx="142" cy="314" r="3.5" fill="#f2cb66"/>
<circle cx="696" cy="288" r="6" fill="#f2cb66"/>
<circle cx="226" cy="197" r="3.5" fill="#ecb838"/>
<circle cx="138" cy="91" r="6" fill="#f2cb66"/>
<circle cx="520" cy="297" r="6" fill="#f4d582"/>
<circle cx="720" cy="184" r="4" fill="#f2cb66"/>
<circle cx="555" cy="290" r="5" fill="#ecb838"/>
<circle cx="727" cy="355" r="3.5" fill="#efc04a"/>
<circle cx="505" cy="369" r="5" fill="#f2cb66"/>
<circle cx="150" cy="300" r="5" fill="#ecb838"/>
<circle cx="488" cy="309" r="3.5" fill="#f4d582"/>
<circle cx="230" cy="172" r="3.5" fill="#ecb838"/>
<circle cx="729" cy="190" r="3.5" fill="#ecb838"/>
<circle cx="172" cy="349" r="4" fill="#f4d582"/>
<circle cx="481" cy="212" r="4.5" fill="#ecb838"/>
<circle cx="507" cy="112" r="6" fill="#f2cb66"/>
<circle cx="525" cy="316" r="6" fill="#f4d582"/>
<circle cx="591" cy="318" r="5" fill="#f2cb66"/>
<circle cx="205" cy="351" r="7" fill="#f4d582"/>
<circle cx="572" cy="347" r="4" fill="#efc04a"/>
<circle cx="630" cy="274" r="7" fill="#f2cb66"/>
<circle cx="168" cy="99" r="7" fill="#ecb838"/>
<circle cx="713" cy="207" r="5" fill="#efc04a"/>
<circle cx="506" cy="287" r="7" fill="#f2cb66"/>
<circle cx="420" cy="86" r="3.5" fill="#efc04a"/>
<circle cx="526" cy="106" r="7" fill="#f4d582"/>
<circle cx="723" cy="245" r="5" fill="#efc04a"/>
<circle cx="593" cy="284" r="7" fill="#f2cb66"/>
<circle cx="163" cy="133" r="4.5" fill="#ecb838"/>
<circle cx="502" cy="128" r="5" fill="#efc04a"/>
<circle cx="177" cy="155" r="5" fill="#ecb838"/>
<circle cx="557" cy="177" r="5" fill="#f4d582"/>
<circle cx="593" cy="406" r="6" fill="#f2cb66"/>
<circle cx="163" cy="249" r="5" fill="#ecb838"/>
<circle cx="695" cy="109" r="3.5" fill="#f2cb66"/>
<circle cx="581" cy="170" r="4.5" fill="#f2cb66"/>
<circle cx="491" cy="289" r="4.5" fill="#efc04a"/>
<circle cx="553" cy="160" r="5" fill="#f4d582"/>
<circle cx="638" cy="86" r="4.5" fill="#f4d582"/>
<circle cx="190" cy="384" r="7" fill="#efc04a"/>
<circle cx="677" cy="179" r="4.5" fill="#efc04a"/>
<circle cx="360" cy="408" r="6" fill="#efc04a"/>
<circle cx="178" cy="355" r="4.5" fill="#f2cb66"/>
<circle cx="666" cy="347" r="7" fill="#f4d582"/>
<circle cx="684" cy="389" r="6" fill="#f2cb66"/>
<circle cx="563" cy="101" r="7" fill="#f4d582"/>
<circle cx="517" cy="177" r="3.5" fill="#f2cb66"/>
<circle cx="221" cy="219" r="4.5" fill="#ecb838"/>
<circle cx="522" cy="216" r="4" fill="#ecb838"/>
<circle cx="190" cy="293" r="3.5" fill="#f2cb66"/>
<circle cx="461" cy="188" r="4.5" fill="#ecb838"/>
<circle cx="619" cy="150" r="3.5" fill="#f4d582"/>
<circle cx="584" cy="246" r="6" fill="#ecb838"/>
<circle cx="193" cy="248" r="7" fill="#f2cb66"/>
<circle cx="173" cy="375" r="5" fill="#f4d582"/>
<circle cx="517" cy="224" r="4.5" fill="#efc04a"/>
<circle cx="194" cy="222" r="5" fill="#f4d582"/>
<circle cx="115" cy="211" r="6" fill="#f4d582"/>
<circle cx="721" cy="165" r="3.5" fill="#f2cb66"/>
<circle cx="211" cy="254" r="7" fill="#efc04a"/>
<circle cx="702" cy="318" r="7" fill="#f4d582"/>
<circle cx="168" cy="336" r="3.5" fill="#f2cb66"/>
<circle cx="517" cy="183" r="4" fill="#ecb838"/>
<circle cx="591" cy="117" r="4.5" fill="#f2cb66"/>
<circle cx="489" cy="88" r="4.5" fill="#f4d582"/>
<circle cx="638" cy="163" r="6" fill="#f2cb66"/>
<circle cx="149" cy="148" r="7" fill="#f4d582"/>
<circle cx="166" cy="159" r="5" fill="#ecb838"/>
<circle cx="540" cy="149" r="4.5" fill="#efc04a"/>
<circle cx="589" cy="180" r="6" fill="#f4d582"/>
<circle cx="495" cy="375" r="5" fill="#f4d582"/>
<circle cx="682" cy="103" r="6" fill="#f2cb66"/>
<circle cx="689" cy="103" r="3.5" fill="#f2cb66"/>
<circle cx="230" cy="230" r="7" fill="#ecb838"/>
<rect x="240" y="97" width="210" height="298" fill="#fff" stroke="#141414" stroke-width="10"/>
<circle cx="287" cy="143" r="11" fill="#e6ac25"/>
<circle cx="395" cy="173" r="5" fill="#f0d07a"/>
<circle cx="268" cy="228" r="5" fill="#f0c860"/>
<circle cx="277" cy="313" r="6" fill="#f0c860"/>
<circle cx="357" cy="362" r="6" fill="#f0d07a"/>
<circle cx="428" cy="290" r="4" fill="#f4d582"/>
<rect x="313" y="200" width="65" height="95" fill="#c4c2c0" stroke="#141414" stroke-width="8"/>
</svg>
<svg class="c" style="left:15px;top:783.1px" width="130" height="72" viewBox="0 60 864 478.5">
<rect x="108" y="78" width="637" height="337" fill="#fffefc"/>
<circle cx="137" cy="258" r="11" fill="#e6ac25"/>
<circle cx="137" cy="258" r="6.1" fill="#d99a18"/>
<circle cx="212" cy="203" r="11" fill="#e6ac25"/>
<circle cx="212" cy="203" r="6.1" fill="#d99a18"/>
<circle cx="218" cy="247" r="11" fill="#e6ac25"/>
<circle cx="218" cy="247" r="6.1" fill="#d99a18"/>
<circle cx="227" cy="295" r="11" fill="#e6ac25"/>
<circle cx="227" cy="295" r="6.1" fill="#d99a18"/>
<circle cx="467" cy="97" r="12" fill="#e6ac25"/>
<circle cx="467" cy="97" r="6.6" fill="#d99a18"/>
<circle cx="575" cy="157" r="11" fill="#e6ac25"/>
<circle cx="575" cy="157" r="6.1" fill="#d99a18"/>
<circle cx="563" cy="208" r="11" fill="#e6ac25"/>
<circle cx="563" cy="208" r="6.1" fill="#d99a18"/>
<circle cx="597" cy="255" r="11" fill="#e6ac25"/>
<circle cx="597" cy="255" r="6.1" fill="#d99a18"/>
<circle cx="527" cy="290" r="12" fill="#e6ac25"/>
<circle cx="527" cy="290" r="6.6" fill="#d99a18"/>
<circle cx="590" cy="290" r="12" fill="#e6ac25"/>
<circle cx="590" cy="290" r="6.6" fill="#d99a18"/>
<circle cx="668" cy="322" r="11" fill="#e6ac25"/>
<circle cx="668" cy="322" r="6.1" fill="#d99a18"/>
<circle cx="620" cy="352" r="11" fill="#e6ac25"/>
<circle cx="620" cy="352" r="6.1" fill="#d99a18"/>
<circle cx="590" cy="385" r="12" fill="#e6ac25"/>
<circle cx="590" cy="385" r="6.6" fill="#d99a18"/>
<circle cx="663" cy="382" r="11" fill="#e6ac25"/>
<circle cx="663" cy="382" r="6.1" fill="#d99a18"/>
<circle cx="703" cy="358" r="11" fill="#e6ac25"/>
<circle cx="703" cy="358" r="6.1" fill="#d99a18"/>
<circle cx="703" cy="140" r="11" fill="#e6ac25"/>
<circle cx="703" cy="140" r="6.1" fill="#d99a18"/>
<circle cx="678" cy="173" r="10" fill="#e6ac25"/>
<circle cx="678" cy="173" r="5.5" fill="#d99a18"/>
<circle cx="208" cy="353" r="8" fill="#e6ac25"/>
<circle cx="208" cy="353" r="4.4" fill="#d99a18"/>
<circle cx="192" cy="318" r="7" fill="#e6ac25"/>
<circle cx="192" cy="318" r="3.9" fill="#d99a18"/>
<circle cx="521" cy="108" r="6" fill="#efc04a"/>
<circle cx="172" cy="222" r="6" fill="#efc04a"/>
<circle cx="705" cy="289" r="6" fill="#efc04a"/>
<circle cx="475" cy="213" r="4" fill="#efc04a"/>
<circle cx="462" cy="128" r="5" fill="#f2cb66"/>
<circle cx="464" cy="305" r="3.5" fill="#f2cb66"/>
<circle cx="154" cy="104" r="4" fill="#f4d582"/>
<circle cx="539" cy="223" r="4.5" fill="#f4d582"/>
<circle cx="480" cy="231" r="4.5" fill="#f2cb66"/>
<circle cx="610" cy="311" r="4" fill="#efc04a"/>
<circle cx="473" cy="255" r="4.5" fill="#f4d582"/>
<circle cx="189" cy="220" r="4.5" fill="#f2cb66"/>
<circle cx="696" cy="221" r="7" fill="#efc04a"/>
<circle cx="591" cy="270" r="4.5" fill="#ecb838"/>
<circle cx="548" cy="277" r="6" fill="#f4d582"/>
<circle cx="158" cy="115" r="4.5" fill="#f4d582"/>
<circle cx="549" cy="106" r="7" fill="#ecb838"/>
<circle cx="518" cy="406" r="5" fill="#ecb838"/>
<circle cx="561" cy="372" r="4.5" fill="#efc04a"/>
<circle cx="701" cy="200" r="6" fill="#efc04a"/>
<circle cx="200" cy="224" r="6" fill="#ecb838"/>
<circle cx="555" cy="404" r="7" fill="#f4d582"/>
<circle cx="712" cy="134" r="4" fill="#f2cb66"/>
<circle cx="279" cy="86" r="5" fill="#ecb838"/>
<circle cx="495" cy="188" r="4" fill="#efc04a"/>
<circle cx="708" cy="305" r="6" fill="#f4d582"/>
<circle cx="234" cy="403" r="5" fill="#f2cb66"/>
<circle cx="183" cy="279" r="3.5" fill="#efc04a"/>
<circle cx="468" cy="258" r="4.5" fill="#efc04a"/>
<circle cx="159" cy="152" r="5" fill="#f2cb66"/>
<circle cx="510" cy="394" r="6" fill="#ecb838"/>
<circle cx="205" cy="327" r="7" fill="#ecb838"/>
<circle cx="708" cy="202" r="7" fill="#efc04a"/>
<circle cx="587" cy="181" r="7" fill="#efc04a"/>
<circle cx="549" cy="169" r="4.5" fill="#f2cb66"/>
<circle cx="512" cy="283" r="4" fill="#f2cb66"/>
<circle cx="625" cy="324" r="4" fill="#f2cb66"/>
<circle cx="133" cy="94" r="4.5" fill="#f4d582"/>
<circle cx="711" cy="229" r="7" fill="#ecb838"/>
<circle cx="710" cy="203" r="4" fill="#efc04a"/>
<circle cx="676" cy="356" r="5" fill="#ecb838"/>
<circle cx="613" cy="112" r="7" fill="#efc04a"/>
<circle cx="682" cy="338" r="4" fill="#f4d582"/>
<circle cx="669" cy="225" r="7" fill="#ecb838"/>
<circle cx="169" cy="391" r="7" fill="#f4d582"/>
<circle cx="168" cy="136" r="4" fill="#efc04a"/>
<circle cx="209" cy="377" r="7" fill="#f2cb66"/>
<circle cx="496" cy="277" r="5" fill="#ecb838"/>
<circle cx="212" cy="262" r="3.5" fill="#efc04a"/>
<circle cx="613" cy="320" r="3.5" fill="#f2cb66"/>
<circle cx="630" cy="153" r="4.5" fill="#f2cb66"/>
<circle cx="480" cy="169" r="5" fill="#f2cb66"/>
<circle cx="153" cy="324" r="5" fill="#f4d582"/>
<circle cx="630" cy="369" r="4" fill="#f2cb66"/>
<circle cx="117" cy="343" r="4" fill="#f2cb66"/>
<circle cx="462" cy="190" r="6" fill="#f4d582"/>
<circle cx="604" cy="119" r="6" fill="#efc04a"/>
<circle cx="596" cy="249" r="6" fill="#efc04a"/>
<circle cx="588" cy="380" r="5" fill="#ecb838"/>
<circle cx="497" cy="248" r="6" fill="#f2cb66"/>
<circle cx="547" cy="231" r="6" fill="#f4d582"/>
<circle cx="693" cy="383" r="4" fill="#f4d582"/>
<circle cx="200" cy="124" r="5" fill="#ecb838"/>
<circle cx="160" cy="163" r="3.5" fill="#f2cb66"/>
<circle cx="532" cy="338" r="4" fill="#ecb838"/>
<circle cx="204" cy="370" r="5" fill="#f2cb66"/>
<circle cx="580" cy="115" r="5" fill="#f2cb66"/>
<circle cx="732" cy="354" r="4" fill="#f4d582"/>
<circle cx="734" cy="215" r="5" fill="#f2cb66"/>
<circle cx="185" cy="382" r="4" fill="#efc04a"/>
<circle cx="167" cy="173" r="4" fill="#ecb838"/>
<circle cx="586" cy="350" r="7" fill="#ecb838"/>
<circle cx="613" cy="144" r="3.5" fill="#ecb838"/>
<circle cx="700" cy="290" r="4.5" fill="#efc04a"/>
<circle cx="494" cy="157" r="4.5" fill="#efc04a"/>
<circle cx="460" cy="384" r="4.5" fill="#f2cb66"/>
<circle cx="142" cy="314" r="3.5" fill="#f2cb66"/>
<circle cx="696" cy="288" r="6" fill="#f2cb66"/>
<circle cx="226" cy="197" r="3.5" fill="#ecb838"/>
<circle cx="138" cy="91" r="6" fill="#f2cb66"/>
<circle cx="520" cy="297" r="6" fill="#f4d582"/>
<circle cx="720" cy="184" r="4" fill="#f2cb66"/>
<circle cx="555" cy="290" r="5" fill="#ecb838"/>
<circle cx="727" cy="355" r="3.5" fill="#efc04a"/>
<circle cx="505" cy="369" r="5" fill="#f2cb66"/>
<circle cx="150" cy="300" r="5" fill="#ecb838"/>
<circle cx="488" cy="309" r="3.5" fill="#f4d582"/>
<circle cx="230" cy="172" r="3.5" fill="#ecb838"/>
<circle cx="729" cy="190" r="3.5" fill="#ecb838"/>
<circle cx="172" cy="349" r="4" fill="#f4d582"/>
<circle cx="481" cy="212" r="4.5" fill="#ecb838"/>
<circle cx="507" cy="112" r="6" fill="#f2cb66"/>
<circle cx="525" cy="316" r="6" fill="#f4d582"/>
<circle cx="591" cy="318" r="5" fill="#f2cb66"/>
<circle cx="205" cy="351" r="7" fill="#f4d582"/>
<circle cx="572" cy="347" r="4" fill="#efc04a"/>
<circle cx="630" cy="274" r="7" fill="#f2cb66"/>
<circle cx="168" cy="99" r="7" fill="#ecb838"/>
<circle cx="713" cy="207" r="5" fill="#efc04a"/>
<circle cx="506" cy="287" r="7" fill="#f2cb66"/>
<circle cx="420" cy="86" r="3.5" fill="#efc04a"/>
<circle cx="526" cy="106" r="7" fill="#f4d582"/>
<circle cx="723" cy="245" r="5" fill="#efc04a"/>
<circle cx="593" cy="284" r="7" fill="#f2cb66"/>
<circle cx="163" cy="133" r="4.5" fill="#ecb838"/>
<circle cx="502" cy="128" r="5" fill="#efc04a"/>
<circle cx="177" cy="155" r="5" fill="#ecb838"/>
<circle cx="557" cy="177" r="5" fill="#f4d582"/>
<circle cx="593" cy="406" r="6" fill="#f2cb66"/>
<circle cx="163" cy="249" r="5" fill="#ecb838"/>
<circle cx="695" cy="109" r="3.5" fill="#f2cb66"/>
<circle cx="581" cy="170" r="4.5" fill="#f2cb66"/>
<circle cx="491" cy="289" r="4.5" fill="#efc04a"/>
<circle cx="553" cy="160" r="5" fill="#f4d582"/>
<circle cx="638" cy="86" r="4.5" fill="#f4d582"/>
<circle cx="190" cy="384" r="7" fill="#efc04a"/>
<circle cx="677" cy="179" r="4.5" fill="#efc04a"/>
<circle cx="360" cy="408" r="6" fill="#efc04a"/>
<circle cx="178" cy="355" r="4.5" fill="#f2cb66"/>
<circle cx="666" cy="347" r="7" fill="#f4d582"/>
<circle cx="684" cy="389" r="6" fill="#f2cb66"/>
<circle cx="563" cy="101" r="7" fill="#f4d582"/>
<circle cx="517" cy="177" r="3.5" fill="#f2cb66"/>
<circle cx="221" cy="219" r="4.5" fill="#ecb838"/>
<circle cx="522" cy="216" r="4" fill="#ecb838"/>
<circle cx="190" cy="293" r="3.5" fill="#f2cb66"/>
<circle cx="461" cy="188" r="4.5" fill="#ecb838"/>
<circle cx="619" cy="150" r="3.5" fill="#f4d582"/>
<circle cx="584" cy="246" r="6" fill="#ecb838"/>
<circle cx="193" cy="248" r="7" fill="#f2cb66"/>
<circle cx="173" cy="375" r="5" fill="#f4d582"/>
<circle cx="517" cy="224" r="4.5" fill="#efc04a"/>
<circle cx="194" cy="222" r="5" fill="#f4d582"/>
<circle cx="115" cy="211" r="6" fill="#f4d582"/>
<circle cx="721" cy="165" r="3.5" fill="#f2cb66"/>
<circle cx="211" cy="254" r="7" fill="#efc04a"/>
<circle cx="702" cy="318" r="7" fill="#f4d582"/>
<circle cx="168" cy="336" r="3.5" fill="#f2cb66"/>
<circle cx="517" cy="183" r="4" fill="#ecb838"/>
<circle cx="591" cy="117" r="4.5" fill="#f2cb66"/>
<circle cx="489" cy="88" r="4.5" fill="#f4d582"/>
<circle cx="638" cy="163" r="6" fill="#f2cb66"/>
<circle cx="149" cy="148" r="7" fill="#f4d582"/>
<circle cx="166" cy="159" r="5" fill="#ecb838"/>
<circle cx="540" cy="149" r="4.5" fill="#efc04a"/>
<circle cx="589" cy="180" r="6" fill="#f4d582"/>
<circle cx="495" cy="375" r="5" fill="#f4d582"/>
<circle cx="682" cy="103" r="6" fill="#f2cb66"/>
<circle cx="689" cy="103" r="3.5" fill="#f2cb66"/>
<circle cx="230" cy="230" r="7" fill="#ecb838"/>
<rect x="240" y="97" width="210" height="298" fill="#fff" stroke="#141414" stroke-width="10"/>
<rect x="313" y="200" width="65" height="95" fill="#c4c2c0" stroke="#141414" stroke-width="8"/>
</svg>
</body></html>
